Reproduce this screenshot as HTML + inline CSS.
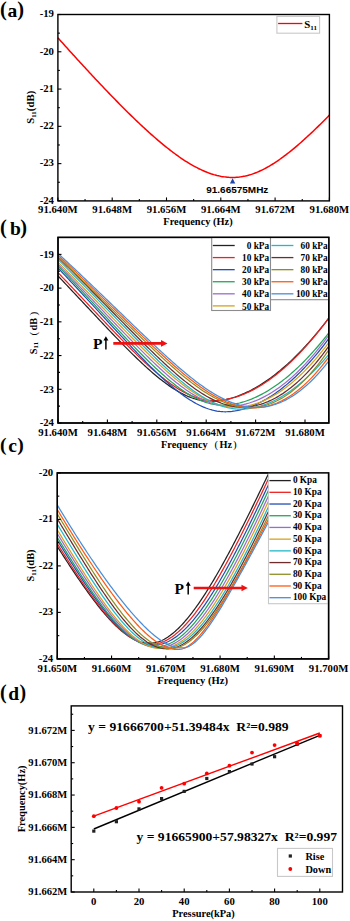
<!DOCTYPE html><html><head><meta charset="utf-8"><style>html,body{margin:0;padding:0;background:#fff;}svg{display:block;}</style></head><body>
<svg width="350" height="921" viewBox="0 0 350 921">
<rect x="0" y="0" width="350" height="921" fill="#fff"/>
<text x="0.1" y="16.2" font-size="20.4" font-family='"Liberation Serif", serif' font-weight="bold">(</text>
<text x="7.5" y="16.9" font-size="19.5" font-family='"Liberation Serif", serif' font-weight="bold">a</text>
<text x="17.35" y="16.2" font-size="20.4" font-family='"Liberation Serif", serif' font-weight="bold">)</text>
<polyline points="57.9,37.77 59.4,39.45 60.9,41.13 62.4,42.8 63.9,44.48 65.4,46.15 66.9,47.81 68.4,49.48 69.9,51.14 71.4,52.8 72.9,54.45 74.4,56.11 75.9,57.76 77.4,59.4 78.9,61.05 80.4,62.69 81.9,64.33 83.4,65.96 84.9,67.59 86.4,69.22 87.9,70.84 89.4,72.46 90.9,74.08 92.4,75.69 93.9,77.3 95.4,78.9 96.9,80.5 98.4,82.1 99.9,83.69 101.4,85.27 102.9,86.85 104.4,88.43 105.9,90 107.4,91.57 108.9,93.13 110.4,94.69 111.9,96.24 113.4,97.79 114.9,99.33 116.4,100.86 117.9,102.39 119.4,103.91 120.9,105.43 122.4,106.94 123.9,108.44 125.4,109.94 126.9,111.43 128.4,112.91 129.9,114.38 131.4,115.85 132.9,117.31 134.4,118.76 135.9,120.2 137.4,121.63 138.9,123.05 140.4,124.47 141.9,125.88 143.4,127.27 144.9,128.66 146.4,130.03 147.9,131.4 149.4,132.75 150.9,134.1 152.4,135.43 153.9,136.75 155.4,138.06 156.9,139.35 158.4,140.63 159.9,141.9 161.4,143.16 162.9,144.4 164.4,145.62 165.9,146.84 167.4,148.03 168.9,149.21 170.4,150.38 171.9,151.52 173.4,152.65 174.9,153.77 176.4,154.86 177.9,155.94 179.4,156.99 180.9,158.03 182.4,159.04 183.9,160.04 185.4,161.01 186.9,161.96 188.4,162.89 189.9,163.8 191.4,164.68 192.9,165.54 194.4,166.37 195.9,167.17 197.4,167.95 198.9,168.71 200.4,169.43 201.9,170.13 203.4,170.8 204.9,171.44 206.4,172.05 207.9,172.63 209.4,173.18 210.9,173.7 212.4,174.18 213.9,174.64 215.4,175.06 216.9,175.45 218.4,175.8 219.9,176.12 221.4,176.41 222.9,176.66 224.4,176.88 225.9,177.06 227.4,177.21 228.9,177.32 230.4,177.39 231.9,177.43 233.4,177.44 234.9,177.4 236.4,177.32 237.9,177.21 239.4,177.05 240.9,176.85 242.4,176.61 243.9,176.33 245.4,176.02 246.9,175.66 248.4,175.27 249.9,174.84 251.4,174.37 252.9,173.86 254.4,173.32 255.9,172.74 257.4,172.13 258.9,171.48 260.4,170.8 261.9,170.09 263.4,169.34 264.9,168.57 266.4,167.76 267.9,166.92 269.4,166.06 270.9,165.16 272.4,164.24 273.9,163.29 275.4,162.32 276.9,161.32 278.4,160.3 279.9,159.25 281.4,158.18 282.9,157.09 284.4,155.97 285.9,154.84 287.4,153.68 288.9,152.5 290.4,151.31 291.9,150.09 293.4,148.86 294.9,147.61 296.4,146.34 297.9,145.06 299.4,143.76 300.9,142.45 302.4,141.12 303.9,139.78 305.4,138.42 306.9,137.05 308.4,135.67 309.9,134.27 311.4,132.86 312.9,131.44 314.4,130.01 315.9,128.57 317.4,127.11 318.9,125.65 320.4,124.17 321.9,122.69 323.4,121.2 324.9,119.69 326.4,118.18 327.9,116.66 329.4,115.13" fill="none" stroke="#ff0000" stroke-width="1.5" stroke-linejoin="round" />
<rect x="57.9" y="14.5" width="271.5" height="186.4" stroke="#000" stroke-width="1.4" fill="none" />
<line x1="57.9" y1="14.5" x2="61.4" y2="14.5" stroke="#000" stroke-width="1.1" />
<line x1="57.9" y1="51.78" x2="61.4" y2="51.78" stroke="#000" stroke-width="1.1" />
<line x1="57.9" y1="89.06" x2="61.4" y2="89.06" stroke="#000" stroke-width="1.1" />
<line x1="57.9" y1="126.34" x2="61.4" y2="126.34" stroke="#000" stroke-width="1.1" />
<line x1="57.9" y1="163.62" x2="61.4" y2="163.62" stroke="#000" stroke-width="1.1" />
<line x1="57.9" y1="200.9" x2="61.4" y2="200.9" stroke="#000" stroke-width="1.1" />
<line x1="57.9" y1="33.14" x2="59.9" y2="33.14" stroke="#000" stroke-width="1.1" />
<line x1="57.9" y1="70.42" x2="59.9" y2="70.42" stroke="#000" stroke-width="1.1" />
<line x1="57.9" y1="107.7" x2="59.9" y2="107.7" stroke="#000" stroke-width="1.1" />
<line x1="57.9" y1="144.98" x2="59.9" y2="144.98" stroke="#000" stroke-width="1.1" />
<line x1="57.9" y1="182.26" x2="59.9" y2="182.26" stroke="#000" stroke-width="1.1" />
<line x1="57.9" y1="200.9" x2="57.9" y2="197.4" stroke="#000" stroke-width="1.1" />
<line x1="112.2" y1="200.9" x2="112.2" y2="197.4" stroke="#000" stroke-width="1.1" />
<line x1="166.5" y1="200.9" x2="166.5" y2="197.4" stroke="#000" stroke-width="1.1" />
<line x1="220.8" y1="200.9" x2="220.8" y2="197.4" stroke="#000" stroke-width="1.1" />
<line x1="275.1" y1="200.9" x2="275.1" y2="197.4" stroke="#000" stroke-width="1.1" />
<line x1="329.4" y1="200.9" x2="329.4" y2="197.4" stroke="#000" stroke-width="1.1" />
<line x1="85.05" y1="200.9" x2="85.05" y2="198.9" stroke="#000" stroke-width="1.1" />
<line x1="139.35" y1="200.9" x2="139.35" y2="198.9" stroke="#000" stroke-width="1.1" />
<line x1="193.65" y1="200.9" x2="193.65" y2="198.9" stroke="#000" stroke-width="1.1" />
<line x1="247.95" y1="200.9" x2="247.95" y2="198.9" stroke="#000" stroke-width="1.1" />
<line x1="302.25" y1="200.9" x2="302.25" y2="198.9" stroke="#000" stroke-width="1.1" />
<text transform="translate(54,17.3) scale(1.12,1)" font-size="9.6" text-anchor="end" font-family='"Liberation Serif", serif' font-weight="bold" fill="#000" >-19</text>
<text transform="translate(54,54.58) scale(1.12,1)" font-size="9.6" text-anchor="end" font-family='"Liberation Serif", serif' font-weight="bold" fill="#000" >-20</text>
<text transform="translate(54,91.86) scale(1.12,1)" font-size="9.6" text-anchor="end" font-family='"Liberation Serif", serif' font-weight="bold" fill="#000" >-21</text>
<text transform="translate(54,129.14) scale(1.12,1)" font-size="9.6" text-anchor="end" font-family='"Liberation Serif", serif' font-weight="bold" fill="#000" >-22</text>
<text transform="translate(54,166.42) scale(1.12,1)" font-size="9.6" text-anchor="end" font-family='"Liberation Serif", serif' font-weight="bold" fill="#000" >-23</text>
<text transform="translate(54,203.7) scale(1.12,1)" font-size="9.6" text-anchor="end" font-family='"Liberation Serif", serif' font-weight="bold" fill="#000" >-24</text>
<text transform="translate(57.9,213.2) scale(1.12,1)" font-size="9.6" text-anchor="middle" font-family='"Liberation Serif", serif' font-weight="bold" fill="#000" >91.640M</text>
<text transform="translate(112.2,213.2) scale(1.12,1)" font-size="9.6" text-anchor="middle" font-family='"Liberation Serif", serif' font-weight="bold" fill="#000" >91.648M</text>
<text transform="translate(166.5,213.2) scale(1.12,1)" font-size="9.6" text-anchor="middle" font-family='"Liberation Serif", serif' font-weight="bold" fill="#000" >91.656M</text>
<text transform="translate(220.8,213.2) scale(1.12,1)" font-size="9.6" text-anchor="middle" font-family='"Liberation Serif", serif' font-weight="bold" fill="#000" >91.664M</text>
<text transform="translate(275.1,213.2) scale(1.12,1)" font-size="9.6" text-anchor="middle" font-family='"Liberation Serif", serif' font-weight="bold" fill="#000" >91.672M</text>
<text transform="translate(329.4,213.2) scale(1.12,1)" font-size="9.6" text-anchor="middle" font-family='"Liberation Serif", serif' font-weight="bold" fill="#000" >91.680M</text>
<text x="198" y="225" font-size="10.4" text-anchor="middle" font-family='"Liberation Serif", serif' font-weight="bold" fill="#000" >Frequency (Hz)</text>
<text transform="translate(34.2,107.3) rotate(-90) scale(1.0,1)" font-size="10.8" text-anchor="middle" font-family='"Liberation Serif", serif' font-weight="bold">S<tspan font-size="7" dy="1.8">11</tspan><tspan dy="-1.8">(dB)</tspan></text>
<rect x="276.9" y="16.4" width="42.7" height="16.8" stroke="#c8c8c8" stroke-width="1.1" fill="#fff" />
<line x1="278.1" y1="23.5" x2="302.4" y2="23.5" stroke="#ff0000" stroke-width="1.3" />
<text x="304.3" y="28" font-size="10.8" font-family='"Liberation Serif", serif' font-weight="bold">S<tspan font-size="7" dy="2">11</tspan></text>
<polygon points="232.6,178.3 235.3,183.4 229.9,183.4" fill="#1d48b0"/>
<text transform="translate(237.3,193.4) scale(1.04,1)" font-size="9.6" text-anchor="middle" font-family='"Liberation Sans", sans-serif' font-weight="bold" fill="#000" >91.66575MHz</text>
<text x="0.1" y="234.3" font-size="20.4" font-family='"Liberation Serif", serif' font-weight="bold">(</text>
<text x="10.05" y="235.4" font-size="19.5" font-family='"Liberation Serif", serif' font-weight="bold">b</text>
<text x="20.35" y="234.3" font-size="20.4" font-family='"Liberation Serif", serif' font-weight="bold">)</text>
<clipPath id="cb"><rect x="58.0" y="237.4" width="270.8" height="185.6"/></clipPath>
<g clip-path="url(#cb)">
<polyline points="58,275.93 59.5,277.51 61,279.09 62.5,280.68 64,282.27 65.5,283.85 67,285.44 68.5,287.03 70,288.63 71.5,290.22 73,291.81 74.5,293.41 76,295.01 77.5,296.6 79,298.2 80.5,299.8 82,301.4 83.5,303 85,304.6 86.5,306.2 88,307.8 89.5,309.4 91,311 92.5,312.59 94,314.19 95.5,315.79 97,317.38 98.5,318.97 100,320.57 101.5,322.16 103,323.74 104.5,325.33 106,326.91 107.5,328.49 109,330.07 110.5,331.64 112,333.21 113.5,334.77 115,336.34 116.5,337.89 118,339.44 119.5,340.99 121,342.53 122.5,344.06 124,345.59 125.5,347.11 127,348.62 128.5,350.12 130,351.62 131.5,353.11 133,354.58 134.5,356.05 136,357.51 137.5,358.96 139,360.39 140.5,361.81 142,363.22 143.5,364.62 145,366 146.5,367.37 148,368.72 149.5,370.06 151,371.38 152.5,372.68 154,373.96 155.5,375.23 157,376.47 158.5,377.7 160,378.9 161.5,380.08 163,381.24 164.5,382.37 166,383.48 167.5,384.57 169,385.62 170.5,386.66 172,387.66 173.5,388.63 175,389.58 176.5,390.49 178,391.37 179.5,392.22 181,393.04 182.5,393.82 184,394.57 185.5,395.28 187,395.95 188.5,396.59 190,397.19 191.5,397.76 193,398.28 194.5,398.76 196,399.21 197.5,399.61 199,399.97 200.5,400.29 202,400.57 203.5,400.8 205,401 206.5,401.15 208,401.25 209.5,401.32 211,401.34 212.5,401.31 214,401.25 215.5,401.15 217,401.02 218.5,400.85 220,400.65 221.5,400.42 223,400.16 224.5,399.87 226,399.55 227.5,399.2 229,398.82 230.5,398.42 232,397.98 233.5,397.52 235,397.04 236.5,396.52 238,395.98 239.5,395.41 241,394.82 242.5,394.2 244,393.55 245.5,392.88 247,392.18 248.5,391.46 250,390.71 251.5,389.94 253,389.14 254.5,388.32 256,387.47 257.5,386.59 259,385.7 260.5,384.78 262,383.83 263.5,382.86 265,381.86 266.5,380.84 268,379.8 269.5,378.73 271,377.64 272.5,376.53 274,375.39 275.5,374.23 277,373.05 278.5,371.84 280,370.61 281.5,369.35 283,368.07 284.5,366.77 286,365.45 287.5,364.1 289,362.73 290.5,361.34 292,359.92 293.5,358.48 295,357.02 296.5,355.54 298,354.03 299.5,352.5 301,350.95 302.5,349.38 304,347.78 305.5,346.16 307,344.52 308.5,342.86 310,341.17 311.5,339.47 313,337.74 314.5,335.98 316,334.21 317.5,332.42 319,330.6 320.5,328.76 322,326.9 323.5,325.02 325,323.11 326.5,321.19 328,319.24 329.5,317.27" fill="none" stroke="#222222" stroke-width="1.25" stroke-linejoin="round" />
<polyline points="58,272.62 59.5,274.19 61,275.76 62.5,277.33 64,278.9 65.5,280.48 67,282.05 68.5,283.63 70,285.21 71.5,286.79 73,288.37 74.5,289.95 76,291.54 77.5,293.12 79,294.71 80.5,296.3 82,297.88 83.5,299.47 85,301.06 86.5,302.65 88,304.24 89.5,305.83 91,307.41 92.5,309 94,310.59 95.5,312.18 97,313.76 98.5,315.35 100,316.93 101.5,318.52 103,320.1 104.5,321.67 106,323.25 107.5,324.83 109,326.4 110.5,327.97 112,329.53 113.5,331.09 115,332.65 116.5,334.21 118,335.76 119.5,337.3 121,338.84 122.5,340.38 124,341.91 125.5,343.43 127,344.95 128.5,346.46 130,347.96 131.5,349.45 133,350.94 134.5,352.42 136,353.88 137.5,355.34 139,356.79 140.5,358.23 142,359.65 143.5,361.07 145,362.47 146.5,363.85 148,365.23 149.5,366.59 151,367.93 152.5,369.26 154,370.57 155.5,371.87 157,373.14 158.5,374.4 160,375.64 161.5,376.86 163,378.06 164.5,379.23 166,380.39 167.5,381.52 169,382.62 170.5,383.7 172,384.76 173.5,385.78 175,386.78 176.5,387.76 178,388.7 179.5,389.61 181,390.49 182.5,391.34 184,392.16 185.5,392.94 187,393.69 188.5,394.41 190,395.08 191.5,395.73 193,396.33 194.5,396.9 196,397.43 197.5,397.92 199,398.37 200.5,398.78 202,399.15 203.5,399.47 205,399.76 206.5,400 208,400.21 209.5,400.37 211,400.48 212.5,400.56 214,400.59 215.5,400.58 217,400.53 218.5,400.44 220,400.31 221.5,400.15 223,399.96 224.5,399.73 226,399.48 227.5,399.19 229,398.87 230.5,398.52 232,398.14 233.5,397.74 235,397.3 236.5,396.84 238,396.34 239.5,395.82 241,395.27 242.5,394.69 244,394.09 245.5,393.45 247,392.79 248.5,392.1 250,391.39 251.5,390.65 253,389.88 254.5,389.08 256,388.26 257.5,387.41 259,386.54 260.5,385.64 262,384.71 263.5,383.75 265,382.78 266.5,381.77 268,380.74 269.5,379.68 271,378.6 272.5,377.49 274,376.36 275.5,375.2 277,374.01 278.5,372.8 280,371.57 281.5,370.31 283,369.02 284.5,367.71 286,366.37 287.5,365.01 289,363.63 290.5,362.22 292,360.78 293.5,359.32 295,357.84 296.5,356.33 298,354.79 299.5,353.24 301,351.65 302.5,350.04 304,348.41 305.5,346.76 307,345.07 308.5,343.37 310,341.64 311.5,339.89 313,338.11 314.5,336.31 316,334.48 317.5,332.63 319,330.75 320.5,328.85 322,326.93 323.5,324.98 325,323.01 326.5,321.02 328,319 329.5,316.96" fill="none" stroke="#ee2020" stroke-width="1.25" stroke-linejoin="round" />
<polyline points="58,267.97 59.5,269.55 61,271.14 62.5,272.73 64,274.32 65.5,275.91 67,277.51 68.5,279.11 70,280.71 71.5,282.31 73,283.92 74.5,285.52 76,287.13 77.5,288.74 79,290.36 80.5,291.97 82,293.59 83.5,295.21 85,296.82 86.5,298.45 88,300.07 89.5,301.69 91,303.31 92.5,304.94 94,306.57 95.5,308.19 97,309.82 98.5,311.45 100,313.08 101.5,314.71 103,316.33 104.5,317.96 106,319.59 107.5,321.22 109,322.85 110.5,324.47 112,326.1 113.5,327.72 115,329.34 116.5,330.96 118,332.58 119.5,334.2 121,335.81 122.5,337.43 124,339.03 125.5,340.64 127,342.24 128.5,343.84 130,345.43 131.5,347.02 133,348.6 134.5,350.18 136,351.76 137.5,353.32 139,354.88 140.5,356.44 142,357.98 143.5,359.52 145,361.05 146.5,362.57 148,364.08 149.5,365.58 151,367.07 152.5,368.55 154,370.02 155.5,371.48 157,372.92 158.5,374.35 160,375.77 161.5,377.17 163,378.55 164.5,379.92 166,381.27 167.5,382.61 169,383.92 170.5,385.22 172,386.49 173.5,387.75 175,388.98 176.5,390.19 178,391.38 179.5,392.54 181,393.67 182.5,394.78 184,395.87 185.5,396.92 187,397.95 188.5,398.94 190,399.91 191.5,400.84 193,401.74 194.5,402.61 196,403.45 197.5,404.24 199,405 200.5,405.73 202,406.42 203.5,407.06 205,407.67 206.5,408.24 208,408.77 209.5,409.26 211,409.7 212.5,410.11 214,410.47 215.5,410.78 217,411.06 218.5,411.28 220,411.47 221.5,411.61 223,411.7 224.5,411.75 226,411.75 227.5,411.71 229,411.63 230.5,411.51 232,411.36 233.5,411.16 235,410.94 236.5,410.68 238,410.38 239.5,410.06 241,409.7 242.5,409.31 244,408.89 245.5,408.44 247,407.95 248.5,407.44 250,406.9 251.5,406.32 253,405.72 254.5,405.08 256,404.42 257.5,403.73 259,403 260.5,402.25 262,401.47 263.5,400.66 265,399.82 266.5,398.96 268,398.06 269.5,397.14 271,396.18 272.5,395.2 274,394.2 275.5,393.16 277,392.1 278.5,391 280,389.88 281.5,388.74 283,387.56 284.5,386.36 286,385.13 287.5,383.87 289,382.59 290.5,381.27 292,379.93 293.5,378.57 295,377.17 296.5,375.75 298,374.3 299.5,372.83 301,371.33 302.5,369.8 304,368.24 305.5,366.66 307,365.05 308.5,363.42 310,361.76 311.5,360.07 313,358.35 314.5,356.61 316,354.84 317.5,353.05 319,351.23 320.5,349.38 322,347.5 323.5,345.6 325,343.68 326.5,341.72 328,339.74 329.5,337.74" fill="none" stroke="#2050b4" stroke-width="1.25" stroke-linejoin="round" />
<polyline points="58,265.86 59.5,267.44 61,269.01 62.5,270.59 64,272.17 65.5,273.75 67,275.34 68.5,276.93 70,278.51 71.5,280.11 73,281.7 74.5,283.29 76,284.89 77.5,286.49 79,288.09 80.5,289.69 82,291.29 83.5,292.89 85,294.5 86.5,296.11 88,297.71 89.5,299.32 91,300.93 92.5,302.54 94,304.15 95.5,305.76 97,307.37 98.5,308.98 100,310.59 101.5,312.2 103,313.81 104.5,315.42 106,317.03 107.5,318.64 109,320.25 110.5,321.85 112,323.46 113.5,325.06 115,326.66 116.5,328.26 118,329.85 119.5,331.45 121,333.03 122.5,334.62 124,336.2 125.5,337.78 127,339.36 128.5,340.93 130,342.49 131.5,344.05 133,345.61 134.5,347.15 136,348.69 137.5,350.23 139,351.76 140.5,353.27 142,354.79 143.5,356.29 145,357.78 146.5,359.26 148,360.74 149.5,362.2 151,363.65 152.5,365.09 154,366.51 155.5,367.92 157,369.32 158.5,370.71 160,372.07 161.5,373.43 163,374.76 164.5,376.08 166,377.38 167.5,378.66 169,379.92 170.5,381.16 172,382.38 173.5,383.58 175,384.75 176.5,385.9 178,387.03 179.5,388.13 181,389.2 182.5,390.25 184,391.26 185.5,392.25 187,393.21 188.5,394.14 190,395.04 191.5,395.9 193,396.73 194.5,397.52 196,398.28 197.5,399.01 199,399.7 200.5,400.35 202,400.96 203.5,401.53 205,402.06 206.5,402.56 208,403.01 209.5,403.42 211,403.79 212.5,404.12 214,404.4 215.5,404.64 217,404.84 218.5,404.99 220,405.1 221.5,405.17 223,405.19 224.5,405.17 226,405.11 227.5,405.01 229,404.87 230.5,404.7 232,404.5 233.5,404.26 235,403.99 236.5,403.69 238,403.36 239.5,403 241,402.6 242.5,402.18 244,401.73 245.5,401.25 247,400.74 248.5,400.21 250,399.64 251.5,399.05 253,398.42 254.5,397.77 256,397.09 257.5,396.39 259,395.66 260.5,394.9 262,394.11 263.5,393.3 265,392.45 266.5,391.59 268,390.69 269.5,389.77 271,388.82 272.5,387.85 274,386.85 275.5,385.82 277,384.77 278.5,383.69 280,382.59 281.5,381.46 283,380.3 284.5,379.12 286,377.92 287.5,376.68 289,375.43 290.5,374.14 292,372.83 293.5,371.5 295,370.14 296.5,368.76 298,367.35 299.5,365.91 301,364.45 302.5,362.97 304,361.46 305.5,359.93 307,358.37 308.5,356.78 310,355.18 311.5,353.54 313,351.89 314.5,350.2 316,348.5 317.5,346.77 319,345.01 320.5,343.23 322,341.43 323.5,339.6 325,337.74 326.5,335.87 328,333.97 329.5,332.04" fill="none" stroke="#24a458" stroke-width="1.25" stroke-linejoin="round" />
<polyline points="58,264.23 59.5,265.76 61,267.29 62.5,268.83 64,270.37 65.5,271.91 67,273.45 68.5,274.99 70,276.54 71.5,278.08 73,279.63 74.5,281.18 76,282.74 77.5,284.29 79,285.85 80.5,287.41 82,288.97 83.5,290.53 85,292.09 86.5,293.65 88,295.22 89.5,296.79 91,298.35 92.5,299.92 94,301.49 95.5,303.06 97,304.63 98.5,306.2 100,307.77 101.5,309.34 103,310.91 104.5,312.48 106,314.06 107.5,315.63 109,317.2 110.5,318.76 112,320.33 113.5,321.9 115,323.47 116.5,325.03 118,326.59 119.5,328.15 121,329.71 122.5,331.27 124,332.82 125.5,334.37 127,335.92 128.5,337.46 130,339 131.5,340.54 133,342.07 134.5,343.6 136,345.12 137.5,346.64 139,348.15 140.5,349.65 142,351.15 143.5,352.64 145,354.12 146.5,355.6 148,357.07 149.5,358.52 151,359.97 152.5,361.41 154,362.84 155.5,364.26 157,365.67 158.5,367.07 160,368.45 161.5,369.82 163,371.18 164.5,372.52 166,373.85 167.5,375.16 169,376.45 170.5,377.73 172,378.99 173.5,380.23 175,381.46 176.5,382.66 178,383.84 179.5,385 181,386.14 182.5,387.26 184,388.35 185.5,389.42 187,390.46 188.5,391.47 190,392.46 191.5,393.42 193,394.36 194.5,395.26 196,396.13 197.5,396.97 199,397.78 200.5,398.55 202,399.29 203.5,400 205,400.67 206.5,401.31 208,401.91 209.5,402.47 211,403 212.5,403.48 214,403.93 215.5,404.34 217,404.71 218.5,405.04 220,405.32 221.5,405.57 223,405.78 224.5,405.94 226,406.06 227.5,406.14 229,406.18 230.5,406.17 232,406.12 233.5,406.04 235,405.91 236.5,405.75 238,405.56 239.5,405.32 241,405.06 242.5,404.76 244,404.43 245.5,404.06 247,403.66 248.5,403.23 250,402.77 251.5,402.27 253,401.74 254.5,401.18 256,400.59 257.5,399.96 259,399.31 260.5,398.62 262,397.9 263.5,397.15 265,396.37 266.5,395.56 268,394.72 269.5,393.85 271,392.95 272.5,392.01 274,391.05 275.5,390.05 277,389.03 278.5,387.97 280,386.89 281.5,385.77 283,384.62 284.5,383.45 286,382.24 287.5,381 289,379.73 290.5,378.44 292,377.11 293.5,375.75 295,374.37 296.5,372.95 298,371.5 299.5,370.03 301,368.52 302.5,366.98 304,365.42 305.5,363.82 307,362.19 308.5,360.54 310,358.85 311.5,357.14 313,355.39 314.5,353.62 316,351.82 317.5,349.98 319,348.12 320.5,346.22 322,344.3 323.5,342.35 325,340.37 326.5,338.35 328,336.31 329.5,334.24" fill="none" stroke="#9a6ccc" stroke-width="1.25" stroke-linejoin="round" />
<polyline points="58,262.16 59.5,263.66 61,265.16 62.5,266.66 64,268.17 65.5,269.68 67,271.19 68.5,272.71 70,274.22 71.5,275.74 73,277.26 74.5,278.79 76,280.31 77.5,281.84 79,283.36 80.5,284.89 82,286.42 83.5,287.96 85,289.49 86.5,291.03 88,292.56 89.5,294.1 91,295.64 92.5,297.18 94,298.72 95.5,300.27 97,301.81 98.5,303.35 100,304.9 101.5,306.44 103,307.99 104.5,309.53 106,311.08 107.5,312.63 109,314.17 110.5,315.72 112,317.26 113.5,318.81 115,320.35 116.5,321.89 118,323.44 119.5,324.98 121,326.51 122.5,328.05 124,329.59 125.5,331.12 127,332.65 128.5,334.18 130,335.7 131.5,337.23 133,338.74 134.5,340.26 136,341.77 137.5,343.28 139,344.78 140.5,346.28 142,347.77 143.5,349.25 145,350.73 146.5,352.21 148,353.67 149.5,355.13 151,356.59 152.5,358.03 154,359.47 155.5,360.89 157,362.31 158.5,363.72 160,365.12 161.5,366.5 163,367.88 164.5,369.24 166,370.59 167.5,371.93 169,373.25 170.5,374.56 172,375.86 173.5,377.14 175,378.4 176.5,379.64 178,380.87 179.5,382.08 181,383.27 182.5,384.44 184,385.59 185.5,386.72 187,387.83 188.5,388.91 190,389.97 191.5,391.01 193,392.02 194.5,393 196,393.96 197.5,394.89 199,395.79 200.5,396.67 202,397.51 203.5,398.32 205,399.1 206.5,399.85 208,400.57 209.5,401.25 211,401.9 212.5,402.51 214,403.09 215.5,403.63 217,404.13 218.5,404.6 220,405.03 221.5,405.42 223,405.77 224.5,406.08 226,406.35 227.5,406.59 229,406.78 230.5,406.93 232,407.04 233.5,407.11 235,407.14 236.5,407.13 238,407.08 239.5,406.99 241,406.86 242.5,406.69 244,406.49 245.5,406.26 247,405.99 248.5,405.68 250,405.34 251.5,404.97 253,404.56 254.5,404.12 256,403.65 257.5,403.15 259,402.61 260.5,402.04 262,401.43 263.5,400.8 265,400.13 266.5,399.43 268,398.7 269.5,397.93 271,397.13 272.5,396.31 274,395.45 275.5,394.55 277,393.63 278.5,392.67 280,391.69 281.5,390.67 283,389.62 284.5,388.54 286,387.42 287.5,386.28 289,385.1 290.5,383.9 292,382.66 293.5,381.39 295,380.09 296.5,378.75 298,377.39 299.5,375.99 301,374.57 302.5,373.11 304,371.62 305.5,370.1 307,368.55 308.5,366.97 310,365.36 311.5,363.71 313,362.04 314.5,360.33 316,358.59 317.5,356.82 319,355.02 320.5,353.19 322,351.33 323.5,349.44 325,347.51 326.5,345.55 328,343.57 329.5,341.55" fill="none" stroke="#d6a21e" stroke-width="1.25" stroke-linejoin="round" />
<polyline points="58,259.45 59.5,260.94 61,262.43 62.5,263.92 64,265.42 65.5,266.92 67,268.42 68.5,269.92 70,271.42 71.5,272.93 73,274.44 74.5,275.95 76,277.46 77.5,278.98 79,280.49 80.5,282.01 82,283.53 83.5,285.06 85,286.58 86.5,288.1 88,289.63 89.5,291.16 91,292.69 92.5,294.22 94,295.76 95.5,297.29 97,298.82 98.5,300.36 100,301.9 101.5,303.44 103,304.97 104.5,306.51 106,308.05 107.5,309.59 109,311.13 110.5,312.68 112,314.22 113.5,315.76 115,317.3 116.5,318.84 118,320.38 119.5,321.91 121,323.45 122.5,324.99 124,326.52 125.5,328.06 127,329.59 128.5,331.12 130,332.65 131.5,334.18 133,335.7 134.5,337.22 136,338.74 137.5,340.25 139,341.76 140.5,343.27 142,344.77 143.5,346.27 145,347.76 146.5,349.25 148,350.73 149.5,352.21 151,353.68 152.5,355.15 154,356.6 155.5,358.05 157,359.5 158.5,360.93 160,362.36 161.5,363.77 163,365.18 164.5,366.57 166,367.96 167.5,369.33 169,370.7 170.5,372.05 172,373.39 173.5,374.71 175,376.02 176.5,377.32 178,378.6 179.5,379.86 181,381.11 182.5,382.34 184,383.55 185.5,384.75 187,385.92 188.5,387.08 190,388.21 191.5,389.33 193,390.42 194.5,391.48 196,392.53 197.5,393.55 199,394.54 200.5,395.51 202,396.45 203.5,397.36 205,398.24 206.5,399.1 208,399.92 209.5,400.72 211,401.48 212.5,402.21 214,402.91 215.5,403.57 217,404.2 218.5,404.79 220,405.35 221.5,405.87 223,406.36 224.5,406.81 226,407.22 227.5,407.59 229,407.92 230.5,408.22 232,408.47 233.5,408.69 235,408.86 236.5,409 238,409.09 239.5,409.14 241,409.16 242.5,409.13 244,409.06 245.5,408.96 247,408.82 248.5,408.65 250,408.44 251.5,408.19 253,407.92 254.5,407.61 256,407.27 257.5,406.9 259,406.49 260.5,406.06 262,405.59 263.5,405.09 265,404.56 266.5,404 268,403.41 269.5,402.79 271,402.13 272.5,401.45 274,400.74 275.5,399.99 277,399.22 278.5,398.41 280,397.58 281.5,396.71 283,395.82 284.5,394.9 286,393.94 287.5,392.96 289,391.95 290.5,390.9 292,389.83 293.5,388.73 295,387.6 296.5,386.44 298,385.25 299.5,384.03 301,382.78 302.5,381.5 304,380.19 305.5,378.86 307,377.49 308.5,376.1 310,374.67 311.5,373.22 313,371.74 314.5,370.23 316,368.69 317.5,367.12 319,365.52 320.5,363.89 322,362.24 323.5,360.55 325,358.84 326.5,357.09 328,355.32 329.5,353.52" fill="none" stroke="#22b8c8" stroke-width="1.25" stroke-linejoin="round" />
<polyline points="58,257.33 59.5,258.8 61,260.27 62.5,261.75 64,263.23 65.5,264.71 67,266.19 68.5,267.68 70,269.17 71.5,270.66 73,272.15 74.5,273.64 76,275.14 77.5,276.63 79,278.13 80.5,279.64 82,281.14 83.5,282.65 85,284.15 86.5,285.66 88,287.17 89.5,288.68 91,290.2 92.5,291.71 94,293.23 95.5,294.75 97,296.26 98.5,297.78 100,299.3 101.5,300.83 103,302.35 104.5,303.87 106,305.39 107.5,306.92 109,308.44 110.5,309.97 112,311.49 113.5,313.02 115,314.54 116.5,316.07 118,317.59 119.5,319.11 121,320.64 122.5,322.16 124,323.68 125.5,325.2 127,326.72 128.5,328.23 130,329.75 131.5,331.26 133,332.77 134.5,334.28 136,335.78 137.5,337.28 139,338.78 140.5,340.27 142,341.76 143.5,343.25 145,344.73 146.5,346.21 148,347.68 149.5,349.15 151,350.61 152.5,352.07 154,353.51 155.5,354.96 157,356.39 158.5,357.82 160,359.24 161.5,360.65 163,362.05 164.5,363.44 166,364.82 167.5,366.19 169,367.55 170.5,368.9 172,370.23 173.5,371.56 175,372.87 176.5,374.17 178,375.45 179.5,376.71 181,377.97 182.5,379.2 184,380.42 185.5,381.62 187,382.8 188.5,383.97 190,385.11 191.5,386.23 193,387.33 194.5,388.41 196,389.47 197.5,390.51 199,391.52 200.5,392.5 202,393.46 203.5,394.39 205,395.3 206.5,396.17 208,397.02 209.5,397.84 211,398.63 212.5,399.39 214,400.11 215.5,400.81 217,401.47 218.5,402.1 220,402.69 221.5,403.25 223,403.77 224.5,404.25 226,404.7 227.5,405.11 229,405.49 230.5,405.82 232,406.12 233.5,406.38 235,406.6 236.5,406.78 238,406.92 239.5,407.02 241,407.08 242.5,407.1 244,407.09 245.5,407.02 247,406.92 248.5,406.78 250,406.61 251.5,406.39 253,406.14 254.5,405.85 256,405.52 257.5,405.15 259,404.75 260.5,404.32 262,403.84 263.5,403.33 265,402.78 266.5,402.2 268,401.58 269.5,400.92 271,400.23 272.5,399.5 274,398.74 275.5,397.94 277,397.1 278.5,396.23 280,395.32 281.5,394.38 283,393.4 284.5,392.38 286,391.33 287.5,390.24 289,389.12 290.5,387.96 292,386.77 293.5,385.54 295,384.27 296.5,382.97 298,381.63 299.5,380.26 301,378.85 302.5,377.4 304,375.92 305.5,374.41 307,372.85 308.5,371.26 310,369.64 311.5,367.98 313,366.28 314.5,364.55 316,362.78 317.5,360.98 319,359.13 320.5,357.26 322,355.34 323.5,353.39 325,351.41 326.5,349.38 328,347.33 329.5,345.23" fill="none" stroke="#6e2c2c" stroke-width="1.25" stroke-linejoin="round" />
<polyline points="58,256.95 59.5,258.37 61,259.79 62.5,261.21 64,262.64 65.5,264.07 67,265.5 68.5,266.93 70,268.36 71.5,269.8 73,271.24 74.5,272.68 76,274.12 77.5,275.56 79,277.01 80.5,278.46 82,279.91 83.5,281.36 85,282.81 86.5,284.27 88,285.73 89.5,287.18 91,288.64 92.5,290.1 94,291.57 95.5,293.03 97,294.5 98.5,295.96 100,297.43 101.5,298.9 103,300.37 104.5,301.84 106,303.31 107.5,304.78 109,306.25 110.5,307.72 112,309.2 113.5,310.67 115,312.14 116.5,313.62 118,315.09 119.5,316.56 121,318.04 122.5,319.51 124,320.98 125.5,322.45 127,323.92 128.5,325.39 130,326.85 131.5,328.32 133,329.79 134.5,331.25 136,332.71 137.5,334.17 139,335.62 140.5,337.07 142,338.52 143.5,339.97 145,341.41 146.5,342.85 148,344.29 149.5,345.72 151,347.15 152.5,348.57 154,349.99 155.5,351.4 157,352.81 158.5,354.21 160,355.6 161.5,356.99 163,358.37 164.5,359.74 166,361.1 167.5,362.46 169,363.8 170.5,365.14 172,366.47 173.5,367.79 175,369.09 176.5,370.39 178,371.67 179.5,372.95 181,374.21 182.5,375.45 184,376.68 185.5,377.9 187,379.1 188.5,380.29 190,381.46 191.5,382.62 193,383.75 194.5,384.87 196,385.97 197.5,387.05 199,388.11 200.5,389.15 202,390.17 203.5,391.17 205,392.14 206.5,393.09 208,394.02 209.5,394.92 211,395.8 212.5,396.65 214,397.47 215.5,398.26 217,399.03 218.5,399.77 220,400.48 221.5,401.15 223,401.8 224.5,402.42 226,403 227.5,403.55 229,404.07 230.5,404.55 232,405 233.5,405.42 235,405.8 236.5,406.14 238,406.45 239.5,406.72 241,406.96 242.5,407.16 244,407.32 245.5,407.44 247,407.53 248.5,407.58 250,407.59 251.5,407.57 253,407.5 254.5,407.39 256,407.24 257.5,407.05 259,406.81 260.5,406.54 262,406.23 263.5,405.87 265,405.47 266.5,405.03 268,404.55 269.5,404.03 271,403.47 272.5,402.87 274,402.22 275.5,401.53 277,400.81 278.5,400.04 280,399.23 281.5,398.37 283,397.48 284.5,396.54 286,395.57 287.5,394.55 289,393.49 290.5,392.38 292,391.24 293.5,390.05 295,388.82 296.5,387.55 298,386.24 299.5,384.89 301,383.49 302.5,382.05 304,380.57 305.5,379.04 307,377.48 308.5,375.87 310,374.21 311.5,372.52 313,370.78 314.5,369 316,367.17 317.5,365.31 319,363.4 320.5,361.44 322,359.44 323.5,357.4 325,355.32 326.5,353.19 328,351.02 329.5,348.8" fill="none" stroke="#8e8e26" stroke-width="1.25" stroke-linejoin="round" />
<polyline points="58,255.21 59.5,256.61 61,258.02 62.5,259.42 64,260.83 65.5,262.24 67,263.65 68.5,265.07 70,266.49 71.5,267.9 73,269.33 74.5,270.75 76,272.17 77.5,273.6 79,275.03 80.5,276.46 82,277.89 83.5,279.33 85,280.76 86.5,282.2 88,283.64 89.5,285.08 91,286.52 92.5,287.97 94,289.41 95.5,290.86 97,292.31 98.5,293.76 100,295.21 101.5,296.66 103,298.11 104.5,299.57 106,301.02 107.5,302.48 109,303.93 110.5,305.39 112,306.85 113.5,308.31 115,309.77 116.5,311.22 118,312.68 119.5,314.14 121,315.6 122.5,317.06 124,318.52 125.5,319.97 127,321.43 128.5,322.89 130,324.34 131.5,325.79 133,327.25 134.5,328.7 136,330.15 137.5,331.59 139,333.04 140.5,334.48 142,335.92 143.5,337.36 145,338.8 146.5,340.23 148,341.66 149.5,343.08 151,344.51 152.5,345.92 154,347.34 155.5,348.74 157,350.15 158.5,351.55 160,352.94 161.5,354.32 163,355.7 164.5,357.08 166,358.44 167.5,359.8 169,361.15 170.5,362.5 172,363.83 173.5,365.16 175,366.47 176.5,367.78 178,369.08 179.5,370.36 181,371.63 182.5,372.9 184,374.15 185.5,375.38 187,376.61 188.5,377.82 190,379.01 191.5,380.19 193,381.35 194.5,382.5 196,383.63 197.5,384.75 199,385.84 200.5,386.92 202,387.97 203.5,389.01 205,390.03 206.5,391.02 208,391.99 209.5,392.94 211,393.87 212.5,394.77 214,395.65 215.5,396.5 217,397.33 218.5,398.13 220,398.9 221.5,399.65 223,400.36 224.5,401.05 226,401.7 227.5,402.33 229,402.92 230.5,403.48 232,404.01 233.5,404.51 235,404.98 236.5,405.41 238,405.8 239.5,406.16 241,406.49 242.5,406.78 244,407.04 245.5,407.26 247,407.44 248.5,407.59 250,407.7 251.5,407.78 253,407.81 254.5,407.81 256,407.78 257.5,407.7 259,407.58 260.5,407.42 262,407.22 263.5,406.98 265,406.7 266.5,406.37 268,406.01 269.5,405.61 271,405.17 272.5,404.69 274,404.16 275.5,403.6 277,403 278.5,402.35 280,401.67 281.5,400.94 283,400.17 284.5,399.37 286,398.52 287.5,397.63 289,396.7 290.5,395.73 292,394.72 293.5,393.67 295,392.57 296.5,391.44 298,390.26 299.5,389.05 301,387.79 302.5,386.49 304,385.15 305.5,383.77 307,382.34 308.5,380.88 310,379.37 311.5,377.82 313,376.23 314.5,374.6 316,372.93 317.5,371.21 319,369.45 320.5,367.65 322,365.81 323.5,363.92 325,362 326.5,360.03 328,358.01 329.5,355.96" fill="none" stroke="#ff5a14" stroke-width="1.25" stroke-linejoin="round" />
<polyline points="58,253.42 59.5,254.81 61,256.2 62.5,257.6 64,258.99 65.5,260.39 67,261.79 68.5,263.19 70,264.6 71.5,266.01 73,267.42 74.5,268.83 76,270.24 77.5,271.65 79,273.07 80.5,274.49 82,275.91 83.5,277.33 85,278.76 86.5,280.18 88,281.61 89.5,283.04 91,284.47 92.5,285.9 94,287.34 95.5,288.77 97,290.21 98.5,291.65 100,293.09 101.5,294.53 103,295.97 104.5,297.41 106,298.85 107.5,300.3 109,301.74 110.5,303.19 112,304.64 113.5,306.08 115,307.53 116.5,308.98 118,310.43 119.5,311.88 121,313.32 122.5,314.77 124,316.22 125.5,317.67 127,319.12 128.5,320.56 130,322.01 131.5,323.45 133,324.9 134.5,326.34 136,327.78 137.5,329.22 139,330.66 140.5,332.1 142,333.53 143.5,334.96 145,336.39 146.5,337.82 148,339.24 149.5,340.66 151,342.08 152.5,343.49 154,344.9 155.5,346.31 157,347.71 158.5,349.1 160,350.49 161.5,351.88 163,353.26 164.5,354.63 166,356 167.5,357.36 169,358.71 170.5,360.06 172,361.4 173.5,362.73 175,364.05 176.5,365.36 178,366.66 179.5,367.96 181,369.24 182.5,370.51 184,371.77 185.5,373.02 187,374.25 188.5,375.48 190,376.69 191.5,377.88 193,379.06 194.5,380.23 196,381.38 197.5,382.51 199,383.63 200.5,384.73 202,385.81 203.5,386.87 205,387.91 206.5,388.94 208,389.94 209.5,390.92 211,391.88 212.5,392.82 214,393.73 215.5,394.62 217,395.48 218.5,396.32 220,397.14 221.5,397.92 223,398.68 224.5,399.42 226,400.12 227.5,400.79 229,401.44 230.5,402.05 232,402.64 233.5,403.19 235,403.71 236.5,404.2 238,404.65 239.5,405.08 241,405.46 242.5,405.82 244,406.14 245.5,406.42 247,406.67 248.5,406.89 250,407.06 251.5,407.21 253,407.31 254.5,407.38 256,407.42 257.5,407.42 259,407.37 260.5,407.29 262,407.17 263.5,407.01 265,406.81 266.5,406.57 268,406.29 269.5,405.97 271,405.61 272.5,405.21 274,404.77 275.5,404.29 277,403.77 278.5,403.21 280,402.61 281.5,401.97 283,401.29 284.5,400.58 286,399.82 287.5,399.02 289,398.18 290.5,397.3 292,396.38 293.5,395.42 295,394.42 296.5,393.38 298,392.3 299.5,391.17 301,390.01 302.5,388.81 304,387.56 305.5,386.28 307,384.95 308.5,383.59 310,382.18 311.5,380.73 313,379.24 314.5,377.71 316,376.14 317.5,374.53 319,372.88 320.5,371.18 322,369.44 323.5,367.67 325,365.84 326.5,363.98 328,362.08 329.5,360.13" fill="none" stroke="#4a8ed8" stroke-width="1.25" stroke-linejoin="round" />
</g>
<rect x="58" y="237.4" width="270.8" height="185.6" stroke="#000" stroke-width="1.4" fill="none" />
<line x1="58" y1="254.4" x2="61.5" y2="254.4" stroke="#000" stroke-width="1.1" />
<line x1="58" y1="288.12" x2="61.5" y2="288.12" stroke="#000" stroke-width="1.1" />
<line x1="58" y1="321.84" x2="61.5" y2="321.84" stroke="#000" stroke-width="1.1" />
<line x1="58" y1="355.56" x2="61.5" y2="355.56" stroke="#000" stroke-width="1.1" />
<line x1="58" y1="389.28" x2="61.5" y2="389.28" stroke="#000" stroke-width="1.1" />
<line x1="58" y1="423" x2="61.5" y2="423" stroke="#000" stroke-width="1.1" />
<line x1="58" y1="237.54" x2="60" y2="237.54" stroke="#000" stroke-width="1.1" />
<line x1="58" y1="271.26" x2="60" y2="271.26" stroke="#000" stroke-width="1.1" />
<line x1="58" y1="304.98" x2="60" y2="304.98" stroke="#000" stroke-width="1.1" />
<line x1="58" y1="338.7" x2="60" y2="338.7" stroke="#000" stroke-width="1.1" />
<line x1="58" y1="372.42" x2="60" y2="372.42" stroke="#000" stroke-width="1.1" />
<line x1="58" y1="406.14" x2="60" y2="406.14" stroke="#000" stroke-width="1.1" />
<line x1="58" y1="423" x2="58" y2="419.5" stroke="#000" stroke-width="1.1" />
<line x1="107.4" y1="423" x2="107.4" y2="419.5" stroke="#000" stroke-width="1.1" />
<line x1="156.8" y1="423" x2="156.8" y2="419.5" stroke="#000" stroke-width="1.1" />
<line x1="206.2" y1="423" x2="206.2" y2="419.5" stroke="#000" stroke-width="1.1" />
<line x1="255.6" y1="423" x2="255.6" y2="419.5" stroke="#000" stroke-width="1.1" />
<line x1="305" y1="423" x2="305" y2="419.5" stroke="#000" stroke-width="1.1" />
<line x1="82.7" y1="423" x2="82.7" y2="421" stroke="#000" stroke-width="1.1" />
<line x1="132.1" y1="423" x2="132.1" y2="421" stroke="#000" stroke-width="1.1" />
<line x1="181.5" y1="423" x2="181.5" y2="421" stroke="#000" stroke-width="1.1" />
<line x1="230.9" y1="423" x2="230.9" y2="421" stroke="#000" stroke-width="1.1" />
<line x1="280.3" y1="423" x2="280.3" y2="421" stroke="#000" stroke-width="1.1" />
<text transform="translate(54,257.7) scale(1.12,1)" font-size="9.6" text-anchor="end" font-family='"Liberation Serif", serif' font-weight="bold" fill="#000" >-19</text>
<text transform="translate(54,291.42) scale(1.12,1)" font-size="9.6" text-anchor="end" font-family='"Liberation Serif", serif' font-weight="bold" fill="#000" >-20</text>
<text transform="translate(54,325.14) scale(1.12,1)" font-size="9.6" text-anchor="end" font-family='"Liberation Serif", serif' font-weight="bold" fill="#000" >-21</text>
<text transform="translate(54,358.86) scale(1.12,1)" font-size="9.6" text-anchor="end" font-family='"Liberation Serif", serif' font-weight="bold" fill="#000" >-22</text>
<text transform="translate(54,392.58) scale(1.12,1)" font-size="9.6" text-anchor="end" font-family='"Liberation Serif", serif' font-weight="bold" fill="#000" >-23</text>
<text transform="translate(54,426.3) scale(1.12,1)" font-size="9.6" text-anchor="end" font-family='"Liberation Serif", serif' font-weight="bold" fill="#000" >-24</text>
<text transform="translate(58,436) scale(1.12,1)" font-size="9.6" text-anchor="middle" font-family='"Liberation Serif", serif' font-weight="bold" fill="#000" >91.640M</text>
<text transform="translate(107.4,436) scale(1.12,1)" font-size="9.6" text-anchor="middle" font-family='"Liberation Serif", serif' font-weight="bold" fill="#000" >91.648M</text>
<text transform="translate(156.8,436) scale(1.12,1)" font-size="9.6" text-anchor="middle" font-family='"Liberation Serif", serif' font-weight="bold" fill="#000" >91.656M</text>
<text transform="translate(206.2,436) scale(1.12,1)" font-size="9.6" text-anchor="middle" font-family='"Liberation Serif", serif' font-weight="bold" fill="#000" >91.664M</text>
<text transform="translate(255.6,436) scale(1.12,1)" font-size="9.6" text-anchor="middle" font-family='"Liberation Serif", serif' font-weight="bold" fill="#000" >91.672M</text>
<text transform="translate(305,436) scale(1.12,1)" font-size="9.6" text-anchor="middle" font-family='"Liberation Serif", serif' font-weight="bold" fill="#000" >91.680M</text>
<text x="161" y="447.8" font-size="10.3" font-family='"Liberation Serif", serif' font-weight="bold">Frequency</text>
<text x="214.6" y="447.6" font-size="11" font-family='"Liberation Serif", serif'>(</text>
<text x="219.4" y="447.8" font-size="10.3" font-family='"Liberation Serif", serif' font-weight="bold">Hz</text>
<text x="233.0" y="447.6" font-size="11" font-family='"Liberation Serif", serif'>)</text>
<text transform="translate(36.6,354.2) rotate(-90)" font-size="10.3" font-family='"Liberation Serif", serif' font-weight="bold">S<tspan font-size="7" dy="1.8">11</tspan></text>
<text transform="translate(36.6,335.6) rotate(-90)" font-size="11" font-family='"Liberation Serif", serif'>(</text>
<text transform="translate(36.6,330.6) rotate(-90)" font-size="10.3" font-family='"Liberation Serif", serif' font-weight="bold">dB</text>
<text transform="translate(36.6,315.4) rotate(-90)" font-size="11" font-family='"Liberation Serif", serif'>)</text>
<rect x="211.7" y="237.4" width="58.8" height="73.1" stroke="#8c8c8c" stroke-width="1.1" fill="#fff" />
<rect x="270.5" y="237.4" width="58.3" height="62.3" stroke="#8c8c8c" stroke-width="1.1" fill="#fff" />
<rect x="58" y="237.4" width="270.8" height="185.6" stroke="#000" stroke-width="1.4" fill="none" />
<line x1="212.8" y1="245.5" x2="234.7" y2="245.5" stroke="#222222" stroke-width="1.3" />
<text x="269.2" y="249.1" font-size="9.3" text-anchor="end" font-family='"Liberation Serif", serif' font-weight="bold" fill="#000" >0 kPa</text>
<line x1="212.8" y1="257.58" x2="234.7" y2="257.58" stroke="#ee2020" stroke-width="1.3" />
<text x="269.2" y="261.18" font-size="9.3" text-anchor="end" font-family='"Liberation Serif", serif' font-weight="bold" fill="#000" >10 kPa</text>
<line x1="212.8" y1="269.66" x2="234.7" y2="269.66" stroke="#2050b4" stroke-width="1.3" />
<text x="269.2" y="273.26" font-size="9.3" text-anchor="end" font-family='"Liberation Serif", serif' font-weight="bold" fill="#000" >20 kPa</text>
<line x1="212.8" y1="281.74" x2="234.7" y2="281.74" stroke="#24a458" stroke-width="1.3" />
<text x="269.2" y="285.34" font-size="9.3" text-anchor="end" font-family='"Liberation Serif", serif' font-weight="bold" fill="#000" >30 kPa</text>
<line x1="212.8" y1="293.82" x2="234.7" y2="293.82" stroke="#9a6ccc" stroke-width="1.3" />
<text x="269.2" y="297.42" font-size="9.3" text-anchor="end" font-family='"Liberation Serif", serif' font-weight="bold" fill="#000" >40 kPa</text>
<line x1="212.8" y1="305.9" x2="234.7" y2="305.9" stroke="#d6a21e" stroke-width="1.3" />
<text x="269.2" y="309.5" font-size="9.3" text-anchor="end" font-family='"Liberation Serif", serif' font-weight="bold" fill="#000" >50 kPa</text>
<line x1="271.5" y1="245.5" x2="293.4" y2="245.5" stroke="#22b8c8" stroke-width="1.3" />
<text x="327.7" y="249.1" font-size="9.3" text-anchor="end" font-family='"Liberation Serif", serif' font-weight="bold" fill="#000" >60 kPa</text>
<line x1="271.5" y1="257.58" x2="293.4" y2="257.58" stroke="#6e2c2c" stroke-width="1.3" />
<text x="327.7" y="261.18" font-size="9.3" text-anchor="end" font-family='"Liberation Serif", serif' font-weight="bold" fill="#000" >70 kPa</text>
<line x1="271.5" y1="269.66" x2="293.4" y2="269.66" stroke="#8e8e26" stroke-width="1.3" />
<text x="327.7" y="273.26" font-size="9.3" text-anchor="end" font-family='"Liberation Serif", serif' font-weight="bold" fill="#000" >80 kPa</text>
<line x1="271.5" y1="281.74" x2="293.4" y2="281.74" stroke="#ff5a14" stroke-width="1.3" />
<text x="327.7" y="285.34" font-size="9.3" text-anchor="end" font-family='"Liberation Serif", serif' font-weight="bold" fill="#000" >90 kPa</text>
<line x1="271.5" y1="293.82" x2="293.4" y2="293.82" stroke="#4a8ed8" stroke-width="1.3" />
<text x="327.7" y="297.42" font-size="9.3" text-anchor="end" font-family='"Liberation Serif", serif' font-weight="bold" fill="#000" >100 kPa</text>
<text x="93" y="348.7" font-size="15.5" text-anchor="start" font-family='"Liberation Serif", serif' font-weight="bold" fill="#000" >P</text>
<path d="M105.9,349.6 V339" stroke="#000" stroke-width="1.5"/><polygon points="105.9,336.3 108.4,340.6 103.4,340.6" fill="#000"/>
<line x1="113.3" y1="343.4" x2="162.5" y2="343.4" stroke="#ee1111" stroke-width="2.7" />
<polygon points="167.5,343.4 161,340.1 161,346.7" fill="#ee1111"/>
<text x="0.1" y="451.3" font-size="19.6" font-family='"Liberation Serif", serif' font-weight="bold">(</text>
<text x="8.3" y="452.4" font-size="19.5" font-family='"Liberation Serif", serif' font-weight="bold">c</text>
<text x="17.35" y="451.3" font-size="19.6" font-family='"Liberation Serif", serif' font-weight="bold">)</text>
<clipPath id="cc"><rect x="57.3" y="472.9" width="211.2" height="186.0"/></clipPath>
<g clip-path="url(#cc)">
<polyline points="57.3,546.46 58.3,548.03 59.3,549.6 60.3,551.16 61.3,552.72 62.3,554.28 63.3,555.83 64.3,557.38 65.3,558.93 66.3,560.47 67.3,562 68.3,563.53 69.3,565.06 70.3,566.58 71.3,568.09 72.3,569.6 73.3,571.11 74.3,572.61 75.3,574.1 76.3,575.58 77.3,577.06 78.3,578.53 79.3,579.99 80.3,581.45 81.3,582.9 82.3,584.34 83.3,585.77 84.3,587.19 85.3,588.61 86.3,590.01 87.3,591.41 88.3,592.8 89.3,594.17 90.3,595.54 91.3,596.89 92.3,598.24 93.3,599.57 94.3,600.89 95.3,602.2 96.3,603.49 97.3,604.78 98.3,606.05 99.3,607.3 100.3,608.54 101.3,609.77 102.3,610.98 103.3,612.18 104.3,613.36 105.3,614.53 106.3,615.68 107.3,616.81 108.3,617.93 109.3,619.03 110.3,620.11 111.3,621.17 112.3,622.21 113.3,623.23 114.3,624.23 115.3,625.22 116.3,626.18 117.3,627.12 118.3,628.03 119.3,628.93 120.3,629.8 121.3,630.65 122.3,631.48 123.3,632.28 124.3,633.05 125.3,633.8 126.3,634.53 127.3,635.23 128.3,635.9 129.3,636.55 130.3,637.17 131.3,637.76 132.3,638.32 133.3,638.86 134.3,639.36 135.3,639.84 136.3,640.28 137.3,640.7 138.3,641.08 139.3,641.44 140.3,641.76 141.3,642.05 142.3,642.31 143.3,642.54 144.3,642.73 145.3,642.9 146.3,643.03 147.3,643.12 148.3,643.19 149.3,643.22 150.3,643.22 151.3,643.18 152.3,643.1 153.3,642.98 154.3,642.83 155.3,642.63 156.3,642.4 157.3,642.13 158.3,641.82 159.3,641.47 160.3,641.09 161.3,640.67 162.3,640.21 163.3,639.72 164.3,639.19 165.3,638.63 166.3,638.04 167.3,637.41 168.3,636.75 169.3,636.05 170.3,635.33 171.3,634.57 172.3,633.78 173.3,632.96 174.3,632.11 175.3,631.24 176.3,630.33 177.3,629.39 178.3,628.43 179.3,627.44 180.3,626.42 181.3,625.38 182.3,624.31 183.3,623.22 184.3,622.1 185.3,620.95 186.3,619.78 187.3,618.59 188.3,617.38 189.3,616.14 190.3,614.88 191.3,613.59 192.3,612.29 193.3,610.96 194.3,609.62 195.3,608.25 196.3,606.86 197.3,605.46 198.3,604.03 199.3,602.58 200.3,601.12 201.3,599.64 202.3,598.14 203.3,596.62 204.3,595.09 205.3,593.54 206.3,591.97 207.3,590.38 208.3,588.78 209.3,587.17 210.3,585.54 211.3,583.89 212.3,582.23 213.3,580.56 214.3,578.87 215.3,577.17 216.3,575.46 217.3,573.73 218.3,571.99 219.3,570.24 220.3,568.47 221.3,566.7 222.3,564.91 223.3,563.11 224.3,561.3 225.3,559.48 226.3,557.65 227.3,555.81 228.3,553.96 229.3,552.1 230.3,550.23 231.3,548.35 232.3,546.46 233.3,544.56 234.3,542.66 235.3,540.74 236.3,538.82 237.3,536.89 238.3,534.95 239.3,533.01 240.3,531.05 241.3,529.09 242.3,527.13 243.3,525.16 244.3,523.18 245.3,521.19 246.3,519.2 247.3,517.2 248.3,515.2 249.3,513.19 250.3,511.18 251.3,509.16 252.3,507.13 253.3,505.11 254.3,503.07 255.3,501.03 256.3,498.99 257.3,496.94 258.3,494.89 259.3,492.84 260.3,490.78 261.3,488.72 262.3,486.65 263.3,484.58 264.3,482.51 265.3,480.43 266.3,478.36 267.3,476.27 268.3,474.19 269.3,472.1" fill="none" stroke="#222222" stroke-width="1.25" stroke-linejoin="round" />
<polyline points="57.3,543.7 58.3,545.3 59.3,546.89 60.3,548.48 61.3,550.07 62.3,551.65 63.3,553.24 64.3,554.81 65.3,556.39 66.3,557.96 67.3,559.52 68.3,561.08 69.3,562.64 70.3,564.19 71.3,565.74 72.3,567.28 73.3,568.82 74.3,570.35 75.3,571.88 76.3,573.4 77.3,574.91 78.3,576.42 79.3,577.92 80.3,579.41 81.3,580.89 82.3,582.37 83.3,583.84 84.3,585.3 85.3,586.76 86.3,588.2 87.3,589.64 88.3,591.06 89.3,592.48 90.3,593.89 91.3,595.28 92.3,596.67 93.3,598.04 94.3,599.4 95.3,600.76 96.3,602.09 97.3,603.42 98.3,604.73 99.3,606.03 100.3,607.32 101.3,608.59 102.3,609.85 103.3,611.09 104.3,612.32 105.3,613.53 106.3,614.72 107.3,615.9 108.3,617.06 109.3,618.2 110.3,619.32 111.3,620.43 112.3,621.52 113.3,622.58 114.3,623.63 115.3,624.66 116.3,625.66 117.3,626.65 118.3,627.61 119.3,628.55 120.3,629.47 121.3,630.36 122.3,631.23 123.3,632.08 124.3,632.9 125.3,633.7 126.3,634.47 127.3,635.21 128.3,635.93 129.3,636.62 130.3,637.28 131.3,637.92 132.3,638.53 133.3,639.11 134.3,639.66 135.3,640.18 136.3,640.67 137.3,641.13 138.3,641.56 139.3,641.96 140.3,642.33 141.3,642.67 142.3,642.98 143.3,643.25 144.3,643.49 145.3,643.7 146.3,643.88 147.3,644.03 148.3,644.14 149.3,644.22 150.3,644.27 151.3,644.28 152.3,644.26 153.3,644.21 154.3,644.12 155.3,643.99 156.3,643.83 157.3,643.64 158.3,643.41 159.3,643.14 160.3,642.84 161.3,642.51 162.3,642.14 163.3,641.74 164.3,641.3 165.3,640.83 166.3,640.33 167.3,639.8 168.3,639.23 169.3,638.63 170.3,638 171.3,637.34 172.3,636.65 173.3,635.92 174.3,635.17 175.3,634.39 176.3,633.57 177.3,632.73 178.3,631.86 179.3,630.96 180.3,630.03 181.3,629.08 182.3,628.1 183.3,627.09 184.3,626.05 185.3,624.99 186.3,623.9 187.3,622.79 188.3,621.65 189.3,620.49 190.3,619.3 191.3,618.09 192.3,616.85 193.3,615.59 194.3,614.31 195.3,613.01 196.3,611.68 197.3,610.34 198.3,608.97 199.3,607.58 200.3,606.17 201.3,604.74 202.3,603.29 203.3,601.82 204.3,600.33 205.3,598.82 206.3,597.3 207.3,595.75 208.3,594.19 209.3,592.61 210.3,591.01 211.3,589.4 212.3,587.77 213.3,586.13 214.3,584.47 215.3,582.79 216.3,581.1 217.3,579.39 218.3,577.67 219.3,575.94 220.3,574.19 221.3,572.43 222.3,570.65 223.3,568.87 224.3,567.06 225.3,565.25 226.3,563.43 227.3,561.59 228.3,559.74 229.3,557.89 230.3,556.02 231.3,554.14 232.3,552.24 233.3,550.34 234.3,548.43 235.3,546.51 236.3,544.58 237.3,542.65 238.3,540.7 239.3,538.74 240.3,536.78 241.3,534.81 242.3,532.83 243.3,530.84 244.3,528.84 245.3,526.84 246.3,524.83 247.3,522.81 248.3,520.79 249.3,518.76 250.3,516.73 251.3,514.68 252.3,512.64 253.3,510.58 254.3,508.53 255.3,506.46 256.3,504.39 257.3,502.32 258.3,500.24 259.3,498.16 260.3,496.07 261.3,493.97 262.3,491.88 263.3,489.78 264.3,487.67 265.3,485.56 266.3,483.45 267.3,481.34 268.3,479.22 269.3,477.1" fill="none" stroke="#ee2020" stroke-width="1.25" stroke-linejoin="round" />
<polyline points="57.3,540.23 58.3,541.85 59.3,543.46 60.3,545.07 61.3,546.68 62.3,548.28 63.3,549.88 64.3,551.48 65.3,553.08 66.3,554.67 67.3,556.26 68.3,557.85 69.3,559.43 70.3,561.01 71.3,562.58 72.3,564.15 73.3,565.71 74.3,567.27 75.3,568.83 76.3,570.38 77.3,571.92 78.3,573.46 79.3,574.99 80.3,576.51 81.3,578.03 82.3,579.54 83.3,581.05 84.3,582.54 85.3,584.03 86.3,585.51 87.3,586.98 88.3,588.45 89.3,589.9 90.3,591.34 91.3,592.78 92.3,594.2 93.3,595.62 94.3,597.02 95.3,598.41 96.3,599.79 97.3,601.16 98.3,602.52 99.3,603.86 100.3,605.19 101.3,606.51 102.3,607.81 103.3,609.1 104.3,610.38 105.3,611.63 106.3,612.88 107.3,614.1 108.3,615.31 109.3,616.51 110.3,617.68 111.3,618.84 112.3,619.98 113.3,621.1 114.3,622.2 115.3,623.28 116.3,624.34 117.3,625.38 118.3,626.39 119.3,627.39 120.3,628.36 121.3,629.32 122.3,630.24 123.3,631.15 124.3,632.03 125.3,632.88 126.3,633.71 127.3,634.52 128.3,635.3 129.3,636.05 130.3,636.77 131.3,637.47 132.3,638.14 133.3,638.78 134.3,639.4 135.3,639.98 136.3,640.53 137.3,641.06 138.3,641.56 139.3,642.02 140.3,642.46 141.3,642.86 142.3,643.23 143.3,643.57 144.3,643.88 145.3,644.16 146.3,644.41 147.3,644.62 148.3,644.8 149.3,644.95 150.3,645.07 151.3,645.15 152.3,645.2 153.3,645.22 154.3,645.21 155.3,645.16 156.3,645.08 157.3,644.96 158.3,644.82 159.3,644.64 160.3,644.42 161.3,644.18 162.3,643.9 163.3,643.59 164.3,643.25 165.3,642.87 166.3,642.46 167.3,642.02 168.3,641.55 169.3,641.05 170.3,640.51 171.3,639.95 172.3,639.35 173.3,638.72 174.3,638.06 175.3,637.38 176.3,636.66 177.3,635.91 178.3,635.13 179.3,634.32 180.3,633.49 181.3,632.62 182.3,631.73 183.3,630.81 184.3,629.86 185.3,628.88 186.3,627.87 187.3,626.84 188.3,625.79 189.3,624.7 190.3,623.59 191.3,622.46 192.3,621.3 193.3,620.11 194.3,618.9 195.3,617.67 196.3,616.41 197.3,615.13 198.3,613.82 199.3,612.5 200.3,611.15 201.3,609.78 202.3,608.38 203.3,606.97 204.3,605.54 205.3,604.08 206.3,602.61 207.3,601.11 208.3,599.6 209.3,598.06 210.3,596.51 211.3,594.94 212.3,593.35 213.3,591.74 214.3,590.12 215.3,588.48 216.3,586.82 217.3,585.15 218.3,583.46 219.3,581.76 220.3,580.04 221.3,578.3 222.3,576.55 223.3,574.79 224.3,573.01 225.3,571.22 226.3,569.41 227.3,567.59 228.3,565.76 229.3,563.92 230.3,562.07 231.3,560.2 232.3,558.32 233.3,556.43 234.3,554.53 235.3,552.62 236.3,550.69 237.3,548.76 238.3,546.82 239.3,544.87 240.3,542.91 241.3,540.94 242.3,538.96 243.3,536.97 244.3,534.97 245.3,532.97 246.3,530.96 247.3,528.94 248.3,526.91 249.3,524.87 250.3,522.83 251.3,520.78 252.3,518.73 253.3,516.66 254.3,514.6 255.3,512.52 256.3,510.44 257.3,508.35 258.3,506.26 259.3,504.17 260.3,502.06 261.3,499.96 262.3,497.85 263.3,495.73 264.3,493.61 265.3,491.48 266.3,489.35 267.3,487.22 268.3,485.08 269.3,482.94" fill="none" stroke="#2050b4" stroke-width="1.25" stroke-linejoin="round" />
<polyline points="57.3,537.39 58.3,539.01 59.3,540.64 60.3,542.26 61.3,543.88 62.3,545.5 63.3,547.11 64.3,548.73 65.3,550.34 66.3,551.94 67.3,553.55 68.3,555.15 69.3,556.75 70.3,558.34 71.3,559.94 72.3,561.52 73.3,563.11 74.3,564.68 75.3,566.26 76.3,567.83 77.3,569.39 78.3,570.95 79.3,572.5 80.3,574.05 81.3,575.59 82.3,577.13 83.3,578.66 84.3,580.18 85.3,581.69 86.3,583.2 87.3,584.7 88.3,586.19 89.3,587.68 90.3,589.15 91.3,590.62 92.3,592.07 93.3,593.52 94.3,594.96 95.3,596.38 96.3,597.8 97.3,599.2 98.3,600.6 99.3,601.98 100.3,603.35 101.3,604.7 102.3,606.05 103.3,607.38 104.3,608.69 105.3,609.99 106.3,611.28 107.3,612.55 108.3,613.81 109.3,615.05 110.3,616.27 111.3,617.48 112.3,618.67 113.3,619.84 114.3,620.99 115.3,622.13 116.3,623.24 117.3,624.34 118.3,625.41 119.3,626.46 120.3,627.5 121.3,628.51 122.3,629.5 123.3,630.46 124.3,631.4 125.3,632.32 126.3,633.22 127.3,634.09 128.3,634.93 129.3,635.75 130.3,636.54 131.3,637.31 132.3,638.05 133.3,638.76 134.3,639.45 135.3,640.1 136.3,640.73 137.3,641.33 138.3,641.9 139.3,642.44 140.3,642.95 141.3,643.43 142.3,643.87 143.3,644.29 144.3,644.68 145.3,645.03 146.3,645.35 147.3,645.64 148.3,645.9 149.3,646.13 150.3,646.32 151.3,646.48 152.3,646.61 153.3,646.71 154.3,646.77 155.3,646.8 156.3,646.79 157.3,646.76 158.3,646.69 159.3,646.58 160.3,646.45 161.3,646.28 162.3,646.07 163.3,645.84 164.3,645.57 165.3,645.27 166.3,644.93 167.3,644.57 168.3,644.17 169.3,643.73 170.3,643.27 171.3,642.77 172.3,642.25 173.3,641.69 174.3,641.1 175.3,640.48 176.3,639.82 177.3,639.14 178.3,638.43 179.3,637.68 180.3,636.91 181.3,636.11 182.3,635.28 183.3,634.41 184.3,633.52 185.3,632.61 186.3,631.66 187.3,630.69 188.3,629.68 189.3,628.65 190.3,627.6 191.3,626.52 192.3,625.41 193.3,624.27 194.3,623.11 195.3,621.93 196.3,620.72 197.3,619.48 198.3,618.23 199.3,616.95 200.3,615.64 201.3,614.31 202.3,612.96 203.3,611.59 204.3,610.19 205.3,608.78 206.3,607.34 207.3,605.88 208.3,604.41 209.3,602.91 210.3,601.39 211.3,599.85 212.3,598.3 213.3,596.72 214.3,595.13 215.3,593.52 216.3,591.89 217.3,590.24 218.3,588.58 219.3,586.9 220.3,585.21 221.3,583.5 222.3,581.77 223.3,580.03 224.3,578.28 225.3,576.51 226.3,574.72 227.3,572.92 228.3,571.11 229.3,569.29 230.3,567.45 231.3,565.6 232.3,563.74 233.3,561.86 234.3,559.98 235.3,558.08 236.3,556.17 237.3,554.25 238.3,552.32 239.3,550.38 240.3,548.43 241.3,546.47 242.3,544.5 243.3,542.52 244.3,540.53 245.3,538.54 246.3,536.53 247.3,534.52 248.3,532.5 249.3,530.47 250.3,528.43 251.3,526.39 252.3,524.34 253.3,522.28 254.3,520.21 255.3,518.14 256.3,516.07 257.3,513.98 258.3,511.89 259.3,509.8 260.3,507.7 261.3,505.59 262.3,503.48 263.3,501.36 264.3,499.24 265.3,497.12 266.3,494.98 267.3,492.85 268.3,490.71 269.3,488.57" fill="none" stroke="#24a458" stroke-width="1.25" stroke-linejoin="round" />
<polyline points="57.3,533.59 58.3,535.23 59.3,536.86 60.3,538.49 61.3,540.12 62.3,541.75 63.3,543.38 64.3,545 65.3,546.63 66.3,548.25 67.3,549.86 68.3,551.48 69.3,553.09 70.3,554.7 71.3,556.31 72.3,557.91 73.3,559.51 74.3,561.1 75.3,562.7 76.3,564.28 77.3,565.86 78.3,567.44 79.3,569.02 80.3,570.58 81.3,572.15 82.3,573.7 83.3,575.25 84.3,576.8 85.3,578.34 86.3,579.87 87.3,581.39 88.3,582.91 89.3,584.42 90.3,585.92 91.3,587.42 92.3,588.91 93.3,590.38 94.3,591.85 95.3,593.31 96.3,594.76 97.3,596.2 98.3,597.62 99.3,599.04 100.3,600.45 101.3,601.84 102.3,603.22 103.3,604.59 104.3,605.95 105.3,607.29 106.3,608.62 107.3,609.94 108.3,611.24 109.3,612.53 110.3,613.8 111.3,615.06 112.3,616.29 113.3,617.52 114.3,618.72 115.3,619.91 116.3,621.08 117.3,622.23 118.3,623.36 119.3,624.47 120.3,625.56 121.3,626.64 122.3,627.69 123.3,628.71 124.3,629.72 125.3,630.7 126.3,631.67 127.3,632.6 128.3,633.52 129.3,634.4 130.3,635.27 131.3,636.11 132.3,636.92 133.3,637.7 134.3,638.46 135.3,639.2 136.3,639.9 137.3,640.58 138.3,641.22 139.3,641.84 140.3,642.43 141.3,642.99 142.3,643.52 143.3,644.02 144.3,644.49 145.3,644.93 146.3,645.33 147.3,645.71 148.3,646.05 149.3,646.36 150.3,646.64 151.3,646.89 152.3,647.1 153.3,647.28 154.3,647.43 155.3,647.54 156.3,647.62 157.3,647.67 158.3,647.69 159.3,647.67 160.3,647.62 161.3,647.53 162.3,647.41 163.3,647.26 164.3,647.08 165.3,646.86 166.3,646.6 167.3,646.32 168.3,646 169.3,645.65 170.3,645.27 171.3,644.85 172.3,644.4 173.3,643.92 174.3,643.41 175.3,642.87 176.3,642.29 177.3,641.68 178.3,641.05 179.3,640.38 180.3,639.68 181.3,638.94 182.3,638.18 183.3,637.39 184.3,636.57 185.3,635.72 186.3,634.84 187.3,633.94 188.3,633 189.3,632.04 190.3,631.04 191.3,630.03 192.3,628.98 193.3,627.91 194.3,626.81 195.3,625.68 196.3,624.53 197.3,623.35 198.3,622.15 199.3,620.92 200.3,619.67 201.3,618.4 202.3,617.1 203.3,615.77 204.3,614.43 205.3,613.06 206.3,611.67 207.3,610.26 208.3,608.83 209.3,607.37 210.3,605.9 211.3,604.41 212.3,602.89 213.3,601.36 214.3,599.8 215.3,598.23 216.3,596.64 217.3,595.03 218.3,593.41 219.3,591.76 220.3,590.1 221.3,588.42 222.3,586.73 223.3,585.02 224.3,583.3 225.3,581.55 226.3,579.8 227.3,578.03 228.3,576.24 229.3,574.45 230.3,572.63 231.3,570.81 232.3,568.97 233.3,567.12 234.3,565.25 235.3,563.38 236.3,561.49 237.3,559.59 238.3,557.68 239.3,555.76 240.3,553.82 241.3,551.88 242.3,549.93 243.3,547.97 244.3,545.99 245.3,544.01 246.3,542.02 247.3,540.02 248.3,538.01 249.3,535.99 250.3,533.97 251.3,531.94 252.3,529.9 253.3,527.85 254.3,525.79 255.3,523.73 256.3,521.66 257.3,519.58 258.3,517.5 259.3,515.41 260.3,513.32 261.3,511.22 262.3,509.11 263.3,507 264.3,504.89 265.3,502.76 266.3,500.64 267.3,498.51 268.3,496.37 269.3,494.23" fill="none" stroke="#9a6ccc" stroke-width="1.25" stroke-linejoin="round" />
<polyline points="57.3,529.89 58.3,531.53 59.3,533.17 60.3,534.81 61.3,536.45 62.3,538.09 63.3,539.73 64.3,541.36 65.3,543 66.3,544.63 67.3,546.26 68.3,547.88 69.3,549.51 70.3,551.13 71.3,552.75 72.3,554.37 73.3,555.98 74.3,557.59 75.3,559.2 76.3,560.8 77.3,562.4 78.3,563.99 79.3,565.58 80.3,567.17 81.3,568.75 82.3,570.32 83.3,571.9 84.3,573.46 85.3,575.02 86.3,576.57 87.3,578.12 88.3,579.66 89.3,581.2 90.3,582.72 91.3,584.24 92.3,585.75 93.3,587.26 94.3,588.75 95.3,590.24 96.3,591.72 97.3,593.19 98.3,594.65 99.3,596.1 100.3,597.53 101.3,598.96 102.3,600.38 103.3,601.78 104.3,603.18 105.3,604.56 106.3,605.93 107.3,607.28 108.3,608.63 109.3,609.95 110.3,611.27 111.3,612.57 112.3,613.85 113.3,615.12 114.3,616.37 115.3,617.61 116.3,618.82 117.3,620.03 118.3,621.21 119.3,622.37 120.3,623.52 121.3,624.64 122.3,625.75 123.3,626.83 124.3,627.9 125.3,628.94 126.3,629.96 127.3,630.96 128.3,631.94 129.3,632.89 130.3,633.82 131.3,634.72 132.3,635.6 133.3,636.45 134.3,637.28 135.3,638.08 136.3,638.86 137.3,639.6 138.3,640.32 139.3,641.02 140.3,641.68 141.3,642.31 142.3,642.92 143.3,643.49 144.3,644.04 145.3,644.55 146.3,645.04 147.3,645.49 148.3,645.91 149.3,646.3 150.3,646.66 151.3,646.99 152.3,647.28 153.3,647.54 154.3,647.77 155.3,647.96 156.3,648.13 157.3,648.26 158.3,648.35 159.3,648.41 160.3,648.44 161.3,648.44 162.3,648.4 163.3,648.33 164.3,648.22 165.3,648.08 166.3,647.91 167.3,647.7 168.3,647.46 169.3,647.19 170.3,646.89 171.3,646.55 172.3,646.17 173.3,645.77 174.3,645.33 175.3,644.86 176.3,644.36 177.3,643.82 178.3,643.26 179.3,642.66 180.3,642.03 181.3,641.37 182.3,640.68 183.3,639.96 184.3,639.2 185.3,638.42 186.3,637.61 187.3,636.76 188.3,635.89 189.3,634.99 190.3,634.06 191.3,633.1 192.3,632.12 193.3,631.1 194.3,630.06 195.3,628.99 196.3,627.9 197.3,626.78 198.3,625.63 199.3,624.46 200.3,623.26 201.3,622.03 202.3,620.79 203.3,619.51 204.3,618.22 205.3,616.9 206.3,615.56 207.3,614.19 208.3,612.8 209.3,611.39 210.3,609.96 211.3,608.51 212.3,607.04 213.3,605.54 214.3,604.03 215.3,602.49 216.3,600.94 217.3,599.37 218.3,597.78 219.3,596.17 220.3,594.54 221.3,592.9 222.3,591.23 223.3,589.55 224.3,587.86 225.3,586.15 226.3,584.42 227.3,582.68 228.3,580.92 229.3,579.15 230.3,577.36 231.3,575.56 232.3,573.74 233.3,571.91 234.3,570.07 235.3,568.22 236.3,566.35 237.3,564.47 238.3,562.58 239.3,560.68 240.3,558.76 241.3,556.83 242.3,554.9 243.3,552.95 244.3,550.99 245.3,549.03 246.3,547.05 247.3,545.06 248.3,543.07 249.3,541.06 250.3,539.05 251.3,537.03 252.3,535 253.3,532.96 254.3,530.91 255.3,528.86 256.3,526.8 257.3,524.73 258.3,522.66 259.3,520.57 260.3,518.49 261.3,516.39 262.3,514.29 263.3,512.19 264.3,510.08 265.3,507.96 266.3,505.84 267.3,503.71 268.3,501.58 269.3,499.44" fill="none" stroke="#d6a21e" stroke-width="1.25" stroke-linejoin="round" />
<polyline points="57.3,524.28 58.3,525.93 59.3,527.58 60.3,529.22 61.3,530.87 62.3,532.52 63.3,534.16 64.3,535.8 65.3,537.45 66.3,539.09 67.3,540.73 68.3,542.36 69.3,544 70.3,545.63 71.3,547.26 72.3,548.89 73.3,550.51 74.3,552.14 75.3,553.76 76.3,555.37 77.3,556.99 78.3,558.6 79.3,560.2 80.3,561.8 81.3,563.4 82.3,565 83.3,566.58 84.3,568.17 85.3,569.75 86.3,571.32 87.3,572.89 88.3,574.45 89.3,576.01 90.3,577.56 91.3,579.11 92.3,580.64 93.3,582.17 94.3,583.7 95.3,585.21 96.3,586.72 97.3,588.22 98.3,589.71 99.3,591.19 100.3,592.67 101.3,594.13 102.3,595.58 103.3,597.03 104.3,598.46 105.3,599.88 106.3,601.29 107.3,602.69 108.3,604.07 109.3,605.45 110.3,606.81 111.3,608.16 112.3,609.49 113.3,610.81 114.3,612.11 115.3,613.4 116.3,614.68 117.3,615.93 118.3,617.17 119.3,618.4 120.3,619.61 121.3,620.8 122.3,621.97 123.3,623.12 124.3,624.25 125.3,625.36 126.3,626.45 127.3,627.53 128.3,628.58 129.3,629.6 130.3,630.61 131.3,631.59 132.3,632.55 133.3,633.49 134.3,634.4 135.3,635.29 136.3,636.15 137.3,636.98 138.3,637.79 139.3,638.58 140.3,639.33 141.3,640.06 142.3,640.76 143.3,641.43 144.3,642.07 145.3,642.69 146.3,643.27 147.3,643.82 148.3,644.35 149.3,644.84 150.3,645.3 151.3,645.73 152.3,646.13 153.3,646.49 154.3,646.83 155.3,647.13 156.3,647.39 157.3,647.63 158.3,647.83 159.3,648 160.3,648.13 161.3,648.24 162.3,648.3 163.3,648.34 164.3,648.34 165.3,648.3 166.3,648.23 167.3,648.13 168.3,647.99 169.3,647.82 170.3,647.61 171.3,647.37 172.3,647.1 173.3,646.79 174.3,646.44 175.3,646.07 176.3,645.65 177.3,645.21 178.3,644.73 179.3,644.22 180.3,643.68 181.3,643.1 182.3,642.5 183.3,641.86 184.3,641.19 185.3,640.48 186.3,639.75 187.3,638.99 188.3,638.19 189.3,637.37 190.3,636.51 191.3,635.63 192.3,634.71 193.3,633.77 194.3,632.8 195.3,631.8 196.3,630.77 197.3,629.72 198.3,628.64 199.3,627.53 200.3,626.4 201.3,625.24 202.3,624.05 203.3,622.84 204.3,621.6 205.3,620.34 206.3,619.06 207.3,617.75 208.3,616.42 209.3,615.07 210.3,613.69 211.3,612.29 212.3,610.87 213.3,609.42 214.3,607.96 215.3,606.48 216.3,604.97 217.3,603.45 218.3,601.9 219.3,600.34 220.3,598.76 221.3,597.16 222.3,595.54 223.3,593.9 224.3,592.25 225.3,590.58 226.3,588.89 227.3,587.18 228.3,585.46 229.3,583.73 230.3,581.98 231.3,580.21 232.3,578.43 233.3,576.63 234.3,574.83 235.3,573 236.3,571.17 237.3,569.32 238.3,567.46 239.3,565.58 240.3,563.7 241.3,561.8 242.3,559.89 243.3,557.97 244.3,556.04 245.3,554.1 246.3,552.14 247.3,550.18 248.3,548.21 249.3,546.23 250.3,544.23 251.3,542.23 252.3,540.22 253.3,538.21 254.3,536.18 255.3,534.15 256.3,532.1 257.3,530.05 258.3,528 259.3,525.93 260.3,523.86 261.3,521.78 262.3,519.7 263.3,517.61 264.3,515.51 265.3,513.41 266.3,511.3 267.3,509.19 268.3,507.07 269.3,504.94" fill="none" stroke="#22b8c8" stroke-width="1.25" stroke-linejoin="round" />
<polyline points="57.3,518.82 58.3,520.48 59.3,522.14 60.3,523.8 61.3,525.45 62.3,527.11 63.3,528.76 64.3,530.41 65.3,532.06 66.3,533.71 67.3,535.36 68.3,537 69.3,538.65 70.3,540.29 71.3,541.93 72.3,543.57 73.3,545.2 74.3,546.83 75.3,548.46 76.3,550.09 77.3,551.72 78.3,553.34 79.3,554.96 80.3,556.57 81.3,558.18 82.3,559.79 83.3,561.39 84.3,562.99 85.3,564.58 86.3,566.17 87.3,567.76 88.3,569.34 89.3,570.91 90.3,572.48 91.3,574.04 92.3,575.6 93.3,577.15 94.3,578.7 95.3,580.24 96.3,581.77 97.3,583.29 98.3,584.81 99.3,586.32 100.3,587.82 101.3,589.31 102.3,590.79 103.3,592.27 104.3,593.73 105.3,595.19 106.3,596.63 107.3,598.07 108.3,599.49 109.3,600.9 110.3,602.31 111.3,603.7 112.3,605.07 113.3,606.44 114.3,607.79 115.3,609.13 116.3,610.45 117.3,611.77 118.3,613.06 119.3,614.34 120.3,615.61 121.3,616.86 122.3,618.09 123.3,619.31 124.3,620.51 125.3,621.69 126.3,622.85 127.3,623.99 128.3,625.12 129.3,626.22 130.3,627.31 131.3,628.37 132.3,629.41 133.3,630.43 134.3,631.43 135.3,632.41 136.3,633.36 137.3,634.29 138.3,635.19 139.3,636.07 140.3,636.93 141.3,637.75 142.3,638.56 143.3,639.33 144.3,640.08 145.3,640.8 146.3,641.49 147.3,642.16 148.3,642.79 149.3,643.39 150.3,643.97 151.3,644.51 152.3,645.03 153.3,645.51 154.3,645.96 155.3,646.38 156.3,646.76 157.3,647.12 158.3,647.44 159.3,647.73 160.3,647.98 161.3,648.2 162.3,648.39 163.3,648.54 164.3,648.66 165.3,648.74 166.3,648.79 167.3,648.81 168.3,648.79 169.3,648.73 170.3,648.63 171.3,648.49 172.3,648.32 173.3,648.11 174.3,647.85 175.3,647.57 176.3,647.24 177.3,646.88 178.3,646.48 179.3,646.04 180.3,645.57 181.3,645.06 182.3,644.52 183.3,643.94 184.3,643.33 185.3,642.69 186.3,642.01 187.3,641.3 188.3,640.55 189.3,639.78 190.3,638.97 191.3,638.13 192.3,637.26 193.3,636.36 194.3,635.43 195.3,634.47 196.3,633.48 197.3,632.47 198.3,631.42 199.3,630.35 200.3,629.25 201.3,628.13 202.3,626.97 203.3,625.79 204.3,624.59 205.3,623.36 206.3,622.11 207.3,620.83 208.3,619.53 209.3,618.2 210.3,616.86 211.3,615.48 212.3,614.09 213.3,612.68 214.3,611.24 215.3,609.79 216.3,608.31 217.3,606.81 218.3,605.29 219.3,603.76 220.3,602.2 221.3,600.63 222.3,599.03 223.3,597.42 224.3,595.8 225.3,594.15 226.3,592.49 227.3,590.81 228.3,589.11 229.3,587.4 230.3,585.68 231.3,583.94 232.3,582.18 233.3,580.41 234.3,578.63 235.3,576.83 236.3,575.02 237.3,573.2 238.3,571.36 239.3,569.51 240.3,567.65 241.3,565.77 242.3,563.89 243.3,561.99 244.3,560.08 245.3,558.16 246.3,556.24 247.3,554.3 248.3,552.35 249.3,550.39 250.3,548.42 251.3,546.44 252.3,544.46 253.3,542.46 254.3,540.46 255.3,538.45 256.3,536.43 257.3,534.4 258.3,532.37 259.3,530.33 260.3,528.28 261.3,526.22 262.3,524.16 263.3,522.09 264.3,520.01 265.3,517.93 266.3,515.85 267.3,513.75 268.3,511.66 269.3,509.55" fill="none" stroke="#6e2c2c" stroke-width="1.25" stroke-linejoin="round" />
<polyline points="57.3,513.92 58.3,515.58 59.3,517.24 60.3,518.9 61.3,520.55 62.3,522.21 63.3,523.86 64.3,525.51 65.3,527.16 66.3,528.81 67.3,530.46 68.3,532.1 69.3,533.75 70.3,535.39 71.3,537.03 72.3,538.66 73.3,540.3 74.3,541.93 75.3,543.56 76.3,545.19 77.3,546.81 78.3,548.43 79.3,550.05 80.3,551.66 81.3,553.27 82.3,554.88 83.3,556.48 84.3,558.08 85.3,559.68 86.3,561.27 87.3,562.86 88.3,564.44 89.3,566.01 90.3,567.59 91.3,569.15 92.3,570.72 93.3,572.27 94.3,573.82 95.3,575.37 96.3,576.9 97.3,578.44 98.3,579.96 99.3,581.48 100.3,582.99 101.3,584.49 102.3,585.99 103.3,587.48 104.3,588.95 105.3,590.42 106.3,591.89 107.3,593.34 108.3,594.78 109.3,596.21 110.3,597.64 111.3,599.05 112.3,600.45 113.3,601.84 114.3,603.22 115.3,604.59 116.3,605.94 117.3,607.29 118.3,608.62 119.3,609.93 120.3,611.23 121.3,612.52 122.3,613.8 123.3,615.05 124.3,616.3 125.3,617.52 126.3,618.74 127.3,619.93 128.3,621.11 129.3,622.27 130.3,623.41 131.3,624.53 132.3,625.64 133.3,626.72 134.3,627.78 135.3,628.83 136.3,629.85 137.3,630.85 138.3,631.83 139.3,632.79 140.3,633.72 141.3,634.63 142.3,635.52 143.3,636.38 144.3,637.22 145.3,638.03 146.3,638.81 147.3,639.57 148.3,640.3 149.3,641.01 150.3,641.68 151.3,642.33 152.3,642.95 153.3,643.53 154.3,644.09 155.3,644.62 156.3,645.12 157.3,645.58 158.3,646.02 159.3,646.42 160.3,646.79 161.3,647.12 162.3,647.42 163.3,647.69 164.3,647.93 165.3,648.13 166.3,648.29 167.3,648.43 168.3,648.52 169.3,648.59 170.3,648.62 171.3,648.61 172.3,648.56 173.3,648.46 174.3,648.33 175.3,648.15 176.3,647.93 177.3,647.66 178.3,647.36 179.3,647.02 180.3,646.63 181.3,646.21 182.3,645.74 183.3,645.24 184.3,644.7 185.3,644.12 186.3,643.5 187.3,642.85 188.3,642.17 189.3,641.44 190.3,640.69 191.3,639.9 192.3,639.07 193.3,638.22 194.3,637.33 195.3,636.41 196.3,635.46 197.3,634.48 198.3,633.48 199.3,632.44 200.3,631.37 201.3,630.28 202.3,629.16 203.3,628.01 204.3,626.84 205.3,625.64 206.3,624.42 207.3,623.17 208.3,621.9 209.3,620.6 210.3,619.29 211.3,617.94 212.3,616.58 213.3,615.19 214.3,613.79 215.3,612.36 216.3,610.91 217.3,609.44 218.3,607.95 219.3,606.45 220.3,604.92 221.3,603.38 222.3,601.81 223.3,600.23 224.3,598.63 225.3,597.02 226.3,595.39 227.3,593.74 228.3,592.08 229.3,590.4 230.3,588.7 231.3,586.99 232.3,585.27 233.3,583.53 234.3,581.78 235.3,580.01 236.3,578.24 237.3,576.45 238.3,574.64 239.3,572.82 240.3,571 241.3,569.16 242.3,567.31 243.3,565.44 244.3,563.57 245.3,561.69 246.3,559.79 247.3,557.89 248.3,555.97 249.3,554.05 250.3,552.12 251.3,550.18 252.3,548.22 253.3,546.27 254.3,544.3 255.3,542.32 256.3,540.34 257.3,538.35 258.3,536.35 259.3,534.34 260.3,532.33 261.3,530.31 262.3,528.29 263.3,526.25 264.3,524.22 265.3,522.17 266.3,520.12 267.3,518.07 268.3,516 269.3,513.94" fill="none" stroke="#8e8e26" stroke-width="1.25" stroke-linejoin="round" />
<polyline points="57.3,509.6 58.3,511.26 59.3,512.92 60.3,514.58 61.3,516.23 62.3,517.88 63.3,519.52 64.3,521.16 65.3,522.79 66.3,524.43 67.3,526.05 68.3,527.68 69.3,529.3 70.3,530.91 71.3,532.53 72.3,534.13 73.3,535.74 74.3,537.33 75.3,538.93 76.3,540.52 77.3,542.1 78.3,543.68 79.3,545.26 80.3,546.83 81.3,548.39 82.3,549.96 83.3,551.51 84.3,553.06 85.3,554.61 86.3,556.15 87.3,557.68 88.3,559.21 89.3,560.74 90.3,562.25 91.3,563.77 92.3,565.27 93.3,566.77 94.3,568.27 95.3,569.76 96.3,571.24 97.3,572.72 98.3,574.19 99.3,575.65 100.3,577.1 101.3,578.55 102.3,580 103.3,581.43 104.3,582.86 105.3,584.28 106.3,585.69 107.3,587.1 108.3,588.5 109.3,589.88 110.3,591.27 111.3,592.64 112.3,594 113.3,595.36 114.3,596.71 115.3,598.04 116.3,599.37 117.3,600.69 118.3,602 119.3,603.3 120.3,604.59 121.3,605.87 122.3,607.14 123.3,608.39 124.3,609.64 125.3,610.87 126.3,612.1 127.3,613.31 128.3,614.51 129.3,615.7 130.3,616.87 131.3,618.03 132.3,619.18 133.3,620.31 134.3,621.43 135.3,622.54 136.3,623.63 137.3,624.71 138.3,625.77 139.3,626.81 140.3,627.84 141.3,628.85 142.3,629.84 143.3,630.82 144.3,631.78 145.3,632.72 146.3,633.64 147.3,634.54 148.3,635.42 149.3,636.28 150.3,637.12 151.3,637.94 152.3,638.74 153.3,639.51 154.3,640.26 155.3,640.98 156.3,641.68 157.3,642.36 158.3,643.01 159.3,643.63 160.3,644.22 161.3,644.79 162.3,645.32 163.3,645.83 164.3,646.31 165.3,646.75 166.3,647.17 167.3,647.55 168.3,647.9 169.3,648.21 170.3,648.49 171.3,648.74 172.3,648.95 173.3,649.13 174.3,649.27 175.3,649.38 176.3,649.45 177.3,649.48 178.3,649.47 179.3,649.4 180.3,649.26 181.3,649.07 182.3,648.81 183.3,648.48 184.3,648.1 185.3,647.66 186.3,647.16 187.3,646.6 188.3,645.98 189.3,645.31 190.3,644.59 191.3,643.82 192.3,643 193.3,642.14 194.3,641.23 195.3,640.27 196.3,639.27 197.3,638.24 198.3,637.16 199.3,636.05 200.3,634.9 201.3,633.72 202.3,632.51 203.3,631.26 204.3,629.99 205.3,628.69 206.3,627.36 207.3,626 208.3,624.62 209.3,623.22 210.3,621.8 211.3,620.35 212.3,618.88 213.3,617.39 214.3,615.89 215.3,614.36 216.3,612.82 217.3,611.26 218.3,609.69 219.3,608.1 220.3,606.5 221.3,604.88 222.3,603.25 223.3,601.6 224.3,599.95 225.3,598.28 226.3,596.6 227.3,594.9 228.3,593.2 229.3,591.49 230.3,589.76 231.3,588.03 232.3,586.29 233.3,584.54 234.3,582.78 235.3,581.01 236.3,579.24 237.3,577.45 238.3,575.66 239.3,573.86 240.3,572.06 241.3,570.25 242.3,568.43 243.3,566.61 244.3,564.78 245.3,562.94 246.3,561.1 247.3,559.25 248.3,557.4 249.3,555.54 250.3,553.68 251.3,551.81 252.3,549.94 253.3,548.06 254.3,546.18 255.3,544.3 256.3,542.41 257.3,540.52 258.3,538.62 259.3,536.73 260.3,534.82 261.3,532.92 262.3,531.01 263.3,529.1 264.3,527.18 265.3,525.26 266.3,523.34 267.3,521.42 268.3,519.49 269.3,517.57" fill="none" stroke="#ff5a14" stroke-width="1.25" stroke-linejoin="round" />
<polyline points="57.3,504.98 58.3,506.64 59.3,508.31 60.3,509.96 61.3,511.61 62.3,513.26 63.3,514.9 64.3,516.54 65.3,518.17 66.3,519.79 67.3,521.42 68.3,523.03 69.3,524.64 70.3,526.25 71.3,527.85 72.3,529.45 73.3,531.04 74.3,532.63 75.3,534.21 76.3,535.78 77.3,537.35 78.3,538.92 79.3,540.47 80.3,542.03 81.3,543.58 82.3,545.12 83.3,546.65 84.3,548.19 85.3,549.71 86.3,551.23 87.3,552.74 88.3,554.25 89.3,555.75 90.3,557.25 91.3,558.74 92.3,560.22 93.3,561.69 94.3,563.16 95.3,564.63 96.3,566.09 97.3,567.54 98.3,568.98 99.3,570.42 100.3,571.85 101.3,573.27 102.3,574.69 103.3,576.1 104.3,577.5 105.3,578.9 106.3,580.29 107.3,581.67 108.3,583.04 109.3,584.41 110.3,585.76 111.3,587.12 112.3,588.46 113.3,589.79 114.3,591.12 115.3,592.44 116.3,593.75 117.3,595.05 118.3,596.34 119.3,597.62 120.3,598.9 121.3,600.16 122.3,601.42 123.3,602.67 124.3,603.91 125.3,605.13 126.3,606.35 127.3,607.56 128.3,608.76 129.3,609.94 130.3,611.12 131.3,612.29 132.3,613.44 133.3,614.58 134.3,615.71 135.3,616.83 136.3,617.94 137.3,619.04 138.3,620.12 139.3,621.19 140.3,622.24 141.3,623.28 142.3,624.31 143.3,625.33 144.3,626.33 145.3,627.31 146.3,628.28 147.3,629.23 148.3,630.17 149.3,631.09 150.3,631.99 151.3,632.87 152.3,633.74 153.3,634.59 154.3,635.41 155.3,636.22 156.3,637.01 157.3,637.77 158.3,638.52 159.3,639.24 160.3,639.94 161.3,640.61 162.3,641.26 163.3,641.88 164.3,642.48 165.3,643.05 166.3,643.6 167.3,644.11 168.3,644.6 169.3,645.05 170.3,645.48 171.3,645.87 172.3,646.23 173.3,646.56 174.3,646.85 175.3,647.12 176.3,647.34 177.3,647.53 178.3,647.69 179.3,647.81 180.3,647.89 181.3,647.94 182.3,647.95 183.3,647.89 184.3,647.77 185.3,647.58 186.3,647.31 187.3,646.98 188.3,646.57 189.3,646.1 190.3,645.57 191.3,644.97 192.3,644.3 193.3,643.58 194.3,642.8 195.3,641.97 196.3,641.08 197.3,640.13 198.3,639.14 199.3,638.1 200.3,637.02 201.3,635.89 202.3,634.73 203.3,633.52 204.3,632.28 205.3,631 206.3,629.69 207.3,628.35 208.3,626.97 209.3,625.57 210.3,624.14 211.3,622.69 212.3,621.21 213.3,619.72 214.3,618.2 215.3,616.66 216.3,615.1 217.3,613.52 218.3,611.92 219.3,610.31 220.3,608.69 221.3,607.05 222.3,605.4 223.3,603.73 224.3,602.05 225.3,600.36 226.3,598.66 227.3,596.95 228.3,595.23 229.3,593.51 230.3,591.77 231.3,590.02 232.3,588.27 233.3,586.51 234.3,584.74 235.3,582.97 236.3,581.19 237.3,579.4 238.3,577.61 239.3,575.81 240.3,574.01 241.3,572.21 242.3,570.39 243.3,568.58 244.3,566.76 245.3,564.94 246.3,563.11 247.3,561.28 248.3,559.45 249.3,557.61 250.3,555.77 251.3,553.93 252.3,552.09 253.3,550.24 254.3,548.39 255.3,546.54 256.3,544.69 257.3,542.83 258.3,540.98 259.3,539.12 260.3,537.26 261.3,535.39 262.3,533.53 263.3,531.67 264.3,529.8 265.3,527.93 266.3,526.06 267.3,524.19 268.3,522.32 269.3,520.45" fill="none" stroke="#4a8ed8" stroke-width="1.25" stroke-linejoin="round" />
</g>
<rect x="57.3" y="472.9" width="271.3" height="186" stroke="#000" stroke-width="1.4" fill="none" />
<line x1="57.3" y1="472.9" x2="60.8" y2="472.9" stroke="#000" stroke-width="1.1" />
<line x1="57.3" y1="519.4" x2="60.8" y2="519.4" stroke="#000" stroke-width="1.1" />
<line x1="57.3" y1="565.9" x2="60.8" y2="565.9" stroke="#000" stroke-width="1.1" />
<line x1="57.3" y1="612.4" x2="60.8" y2="612.4" stroke="#000" stroke-width="1.1" />
<line x1="57.3" y1="658.9" x2="60.8" y2="658.9" stroke="#000" stroke-width="1.1" />
<line x1="57.3" y1="496.15" x2="59.3" y2="496.15" stroke="#000" stroke-width="1.1" />
<line x1="57.3" y1="542.65" x2="59.3" y2="542.65" stroke="#000" stroke-width="1.1" />
<line x1="57.3" y1="589.15" x2="59.3" y2="589.15" stroke="#000" stroke-width="1.1" />
<line x1="57.3" y1="635.65" x2="59.3" y2="635.65" stroke="#000" stroke-width="1.1" />
<line x1="57.3" y1="658.9" x2="57.3" y2="655.4" stroke="#000" stroke-width="1.1" />
<line x1="111.56" y1="658.9" x2="111.56" y2="655.4" stroke="#000" stroke-width="1.1" />
<line x1="165.82" y1="658.9" x2="165.82" y2="655.4" stroke="#000" stroke-width="1.1" />
<line x1="220.08" y1="658.9" x2="220.08" y2="655.4" stroke="#000" stroke-width="1.1" />
<line x1="274.34" y1="658.9" x2="274.34" y2="655.4" stroke="#000" stroke-width="1.1" />
<line x1="328.6" y1="658.9" x2="328.6" y2="655.4" stroke="#000" stroke-width="1.1" />
<line x1="84.43" y1="658.9" x2="84.43" y2="656.9" stroke="#000" stroke-width="1.1" />
<line x1="138.69" y1="658.9" x2="138.69" y2="656.9" stroke="#000" stroke-width="1.1" />
<line x1="192.95" y1="658.9" x2="192.95" y2="656.9" stroke="#000" stroke-width="1.1" />
<line x1="247.21" y1="658.9" x2="247.21" y2="656.9" stroke="#000" stroke-width="1.1" />
<line x1="301.47" y1="658.9" x2="301.47" y2="656.9" stroke="#000" stroke-width="1.1" />
<text transform="translate(53.2,475.7) scale(1.12,1)" font-size="9.6" text-anchor="end" font-family='"Liberation Serif", serif' font-weight="bold" fill="#000" >-20</text>
<text transform="translate(53.2,522.2) scale(1.12,1)" font-size="9.6" text-anchor="end" font-family='"Liberation Serif", serif' font-weight="bold" fill="#000" >-21</text>
<text transform="translate(53.2,568.7) scale(1.12,1)" font-size="9.6" text-anchor="end" font-family='"Liberation Serif", serif' font-weight="bold" fill="#000" >-22</text>
<text transform="translate(53.2,615.2) scale(1.12,1)" font-size="9.6" text-anchor="end" font-family='"Liberation Serif", serif' font-weight="bold" fill="#000" >-23</text>
<text transform="translate(53.2,661.7) scale(1.12,1)" font-size="9.6" text-anchor="end" font-family='"Liberation Serif", serif' font-weight="bold" fill="#000" >-24</text>
<text transform="translate(57.3,671.8) scale(1.12,1)" font-size="9.6" text-anchor="middle" font-family='"Liberation Serif", serif' font-weight="bold" fill="#000" >91.650M</text>
<text transform="translate(111.56,671.8) scale(1.12,1)" font-size="9.6" text-anchor="middle" font-family='"Liberation Serif", serif' font-weight="bold" fill="#000" >91.660M</text>
<text transform="translate(165.82,671.8) scale(1.12,1)" font-size="9.6" text-anchor="middle" font-family='"Liberation Serif", serif' font-weight="bold" fill="#000" >91.670M</text>
<text transform="translate(220.08,671.8) scale(1.12,1)" font-size="9.6" text-anchor="middle" font-family='"Liberation Serif", serif' font-weight="bold" fill="#000" >91.680M</text>
<text transform="translate(274.34,671.8) scale(1.12,1)" font-size="9.6" text-anchor="middle" font-family='"Liberation Serif", serif' font-weight="bold" fill="#000" >91.690M</text>
<text transform="translate(328.6,671.8) scale(1.12,1)" font-size="9.6" text-anchor="middle" font-family='"Liberation Serif", serif' font-weight="bold" fill="#000" >91.700M</text>
<text x="192.7" y="683.6" font-size="10.6" text-anchor="middle" font-family='"Liberation Serif", serif' font-weight="bold" fill="#000" >Frequency (Hz)</text>
<text transform="translate(34,565.5) rotate(-90) scale(1.08,1)" font-size="9.6" text-anchor="middle" font-family='"Liberation Serif", serif' font-weight="bold">S<tspan font-size="6.5" dy="1.8">11</tspan><tspan dy="-1.8">(dB)</tspan></text>
<rect x="268.5" y="472.9" width="59.5" height="130.8" stroke="#c8c8c8" stroke-width="1.1" fill="#fff" />
<rect x="57.3" y="472.9" width="271.3" height="186" stroke="#000" stroke-width="1.4" fill="none" />
<line x1="269.4" y1="480.6" x2="290.8" y2="480.6" stroke="#222222" stroke-width="1.3" />
<text x="292.9" y="483.3" font-size="9.3" text-anchor="start" font-family='"Liberation Serif", serif' font-weight="bold" fill="#000" >0 Kpa</text>
<line x1="269.4" y1="492.31" x2="290.8" y2="492.31" stroke="#ee2020" stroke-width="1.3" />
<text x="292.9" y="495.01" font-size="9.3" text-anchor="start" font-family='"Liberation Serif", serif' font-weight="bold" fill="#000" >10 Kpa</text>
<line x1="269.4" y1="504.02" x2="290.8" y2="504.02" stroke="#2050b4" stroke-width="1.3" />
<text x="292.9" y="506.72" font-size="9.3" text-anchor="start" font-family='"Liberation Serif", serif' font-weight="bold" fill="#000" >20 Kpa</text>
<line x1="269.4" y1="515.73" x2="290.8" y2="515.73" stroke="#24a458" stroke-width="1.3" />
<text x="292.9" y="518.43" font-size="9.3" text-anchor="start" font-family='"Liberation Serif", serif' font-weight="bold" fill="#000" >30 Kpa</text>
<line x1="269.4" y1="527.44" x2="290.8" y2="527.44" stroke="#9a6ccc" stroke-width="1.3" />
<text x="292.9" y="530.14" font-size="9.3" text-anchor="start" font-family='"Liberation Serif", serif' font-weight="bold" fill="#000" >40 Kpa</text>
<line x1="269.4" y1="539.15" x2="290.8" y2="539.15" stroke="#d6a21e" stroke-width="1.3" />
<text x="292.9" y="541.85" font-size="9.3" text-anchor="start" font-family='"Liberation Serif", serif' font-weight="bold" fill="#000" >50 Kpa</text>
<line x1="269.4" y1="550.86" x2="290.8" y2="550.86" stroke="#22b8c8" stroke-width="1.3" />
<text x="292.9" y="553.56" font-size="9.3" text-anchor="start" font-family='"Liberation Serif", serif' font-weight="bold" fill="#000" >60 Kpa</text>
<line x1="269.4" y1="562.57" x2="290.8" y2="562.57" stroke="#6e2c2c" stroke-width="1.3" />
<text x="292.9" y="565.27" font-size="9.3" text-anchor="start" font-family='"Liberation Serif", serif' font-weight="bold" fill="#000" >70 Kpa</text>
<line x1="269.4" y1="574.28" x2="290.8" y2="574.28" stroke="#8e8e26" stroke-width="1.3" />
<text x="292.9" y="576.98" font-size="9.3" text-anchor="start" font-family='"Liberation Serif", serif' font-weight="bold" fill="#000" >80 Kpa</text>
<line x1="269.4" y1="585.99" x2="290.8" y2="585.99" stroke="#ff5a14" stroke-width="1.3" />
<text x="292.9" y="588.69" font-size="9.3" text-anchor="start" font-family='"Liberation Serif", serif' font-weight="bold" fill="#000" >90 Kpa</text>
<line x1="269.4" y1="597.7" x2="290.8" y2="597.7" stroke="#4a8ed8" stroke-width="1.3" />
<text x="292.9" y="600.4" font-size="9.3" text-anchor="start" font-family='"Liberation Serif", serif' font-weight="bold" fill="#000" >100 Kpa</text>
<text x="174.5" y="594.3" font-size="15.5" text-anchor="start" font-family='"Liberation Serif", serif' font-weight="bold" fill="#000" >P</text>
<path d="M188.2,594.5 V584" stroke="#000" stroke-width="1.5"/><polygon points="188.2,581.4 190.7,585.7 185.7,585.7" fill="#000"/>
<line x1="193.7" y1="588" x2="243" y2="588" stroke="#ee1111" stroke-width="2.7" />
<polygon points="247.8,588 241.5,584.7 241.5,591.3" fill="#ee1111"/>
<text x="0.1" y="698.9" font-size="19.9" font-family='"Liberation Serif", serif' font-weight="bold">(</text>
<text x="8.2" y="699.9" font-size="19.5" font-family='"Liberation Serif", serif' font-weight="bold">d</text>
<text x="19.45" y="698.9" font-size="19.9" font-family='"Liberation Serif", serif' font-weight="bold">)</text>
<line x1="93.8" y1="828.98" x2="319.8" y2="735.28" stroke="#000" stroke-width="1.4" />
<line x1="93.8" y1="816.05" x2="319.8" y2="732.99" stroke="#ff0000" stroke-width="1.4" />
<rect x="92.2" y="829.5" width="3.2" height="3.2" stroke="none" stroke-width="0" fill="#222" />
<rect x="114.8" y="820.1" width="3.2" height="3.2" stroke="none" stroke-width="0" fill="#222" />
<rect x="137.4" y="807.3" width="3.2" height="3.2" stroke="none" stroke-width="0" fill="#222" />
<rect x="160" y="797" width="3.2" height="3.2" stroke="none" stroke-width="0" fill="#222" />
<rect x="182.6" y="789.8" width="3.2" height="3.2" stroke="none" stroke-width="0" fill="#222" />
<rect x="205.2" y="776.9" width="3.2" height="3.2" stroke="none" stroke-width="0" fill="#222" />
<rect x="227.8" y="770" width="3.2" height="3.2" stroke="none" stroke-width="0" fill="#222" />
<rect x="250.4" y="762.4" width="3.2" height="3.2" stroke="none" stroke-width="0" fill="#222" />
<rect x="273" y="755.1" width="3.2" height="3.2" stroke="none" stroke-width="0" fill="#222" />
<rect x="295.6" y="742.6" width="3.2" height="3.2" stroke="none" stroke-width="0" fill="#222" />
<rect x="318.2" y="734.1" width="3.2" height="3.2" stroke="none" stroke-width="0" fill="#222" />
<circle cx="93.8" cy="816.2" r="1.9" fill="#ff0000"/>
<circle cx="116.4" cy="808" r="1.9" fill="#ff0000"/>
<circle cx="139" cy="801.7" r="1.9" fill="#ff0000"/>
<circle cx="161.6" cy="787.8" r="1.9" fill="#ff0000"/>
<circle cx="184.2" cy="783.7" r="1.9" fill="#ff0000"/>
<circle cx="206.8" cy="773.4" r="1.9" fill="#ff0000"/>
<circle cx="229.4" cy="765.7" r="1.9" fill="#ff0000"/>
<circle cx="252" cy="752.6" r="1.9" fill="#ff0000"/>
<circle cx="274.6" cy="745.1" r="1.9" fill="#ff0000"/>
<circle cx="297.2" cy="743.2" r="1.9" fill="#ff0000"/>
<circle cx="319.8" cy="735.7" r="1.9" fill="#ff0000"/>
<rect x="71.2" y="705.9" width="271.3" height="186.1" stroke="#000" stroke-width="1.4" fill="none" />
<line x1="71.2" y1="892" x2="74.7" y2="892" stroke="#000" stroke-width="1.1" />
<line x1="71.2" y1="859.68" x2="74.7" y2="859.68" stroke="#000" stroke-width="1.1" />
<line x1="71.2" y1="827.36" x2="74.7" y2="827.36" stroke="#000" stroke-width="1.1" />
<line x1="71.2" y1="795.04" x2="74.7" y2="795.04" stroke="#000" stroke-width="1.1" />
<line x1="71.2" y1="762.72" x2="74.7" y2="762.72" stroke="#000" stroke-width="1.1" />
<line x1="71.2" y1="730.4" x2="74.7" y2="730.4" stroke="#000" stroke-width="1.1" />
<line x1="71.2" y1="875.84" x2="73.2" y2="875.84" stroke="#000" stroke-width="1.1" />
<line x1="71.2" y1="843.52" x2="73.2" y2="843.52" stroke="#000" stroke-width="1.1" />
<line x1="71.2" y1="811.2" x2="73.2" y2="811.2" stroke="#000" stroke-width="1.1" />
<line x1="71.2" y1="778.88" x2="73.2" y2="778.88" stroke="#000" stroke-width="1.1" />
<line x1="71.2" y1="746.56" x2="73.2" y2="746.56" stroke="#000" stroke-width="1.1" />
<line x1="71.2" y1="714.24" x2="73.2" y2="714.24" stroke="#000" stroke-width="1.1" />
<line x1="93.8" y1="892" x2="93.8" y2="888.5" stroke="#000" stroke-width="1.1" />
<line x1="139" y1="892" x2="139" y2="888.5" stroke="#000" stroke-width="1.1" />
<line x1="184.2" y1="892" x2="184.2" y2="888.5" stroke="#000" stroke-width="1.1" />
<line x1="229.4" y1="892" x2="229.4" y2="888.5" stroke="#000" stroke-width="1.1" />
<line x1="274.6" y1="892" x2="274.6" y2="888.5" stroke="#000" stroke-width="1.1" />
<line x1="319.8" y1="892" x2="319.8" y2="888.5" stroke="#000" stroke-width="1.1" />
<line x1="116.4" y1="892" x2="116.4" y2="890" stroke="#000" stroke-width="1.1" />
<line x1="161.6" y1="892" x2="161.6" y2="890" stroke="#000" stroke-width="1.1" />
<line x1="206.8" y1="892" x2="206.8" y2="890" stroke="#000" stroke-width="1.1" />
<line x1="252" y1="892" x2="252" y2="890" stroke="#000" stroke-width="1.1" />
<line x1="297.2" y1="892" x2="297.2" y2="890" stroke="#000" stroke-width="1.1" />
<text transform="translate(67.2,895.4) scale(1.1,1)" font-size="9.6" text-anchor="end" font-family='"Liberation Serif", serif' font-weight="bold" fill="#000" >91.662M</text>
<text transform="translate(67.2,863.08) scale(1.1,1)" font-size="9.6" text-anchor="end" font-family='"Liberation Serif", serif' font-weight="bold" fill="#000" >91.664M</text>
<text transform="translate(67.2,830.76) scale(1.1,1)" font-size="9.6" text-anchor="end" font-family='"Liberation Serif", serif' font-weight="bold" fill="#000" >91.666M</text>
<text transform="translate(67.2,798.44) scale(1.1,1)" font-size="9.6" text-anchor="end" font-family='"Liberation Serif", serif' font-weight="bold" fill="#000" >91.668M</text>
<text transform="translate(67.2,766.12) scale(1.1,1)" font-size="9.6" text-anchor="end" font-family='"Liberation Serif", serif' font-weight="bold" fill="#000" >91.670M</text>
<text transform="translate(67.2,733.8) scale(1.1,1)" font-size="9.6" text-anchor="end" font-family='"Liberation Serif", serif' font-weight="bold" fill="#000" >91.672M</text>
<text transform="translate(93.8,904.5) scale(1.12,1)" font-size="9.6" text-anchor="middle" font-family='"Liberation Serif", serif' font-weight="bold" fill="#000" >0</text>
<text transform="translate(139,904.5) scale(1.12,1)" font-size="9.6" text-anchor="middle" font-family='"Liberation Serif", serif' font-weight="bold" fill="#000" >20</text>
<text transform="translate(184.2,904.5) scale(1.12,1)" font-size="9.6" text-anchor="middle" font-family='"Liberation Serif", serif' font-weight="bold" fill="#000" >40</text>
<text transform="translate(229.4,904.5) scale(1.12,1)" font-size="9.6" text-anchor="middle" font-family='"Liberation Serif", serif' font-weight="bold" fill="#000" >60</text>
<text transform="translate(274.6,904.5) scale(1.12,1)" font-size="9.6" text-anchor="middle" font-family='"Liberation Serif", serif' font-weight="bold" fill="#000" >80</text>
<text transform="translate(319.8,904.5) scale(1.12,1)" font-size="9.6" text-anchor="middle" font-family='"Liberation Serif", serif' font-weight="bold" fill="#000" >100</text>
<text x="203.5" y="917.2" font-size="10.4" text-anchor="middle" font-family='"Liberation Serif", serif' font-weight="bold" fill="#000" >Pressure(kPa)</text>
<text transform="translate(24.6,798.9) rotate(-90) scale(1.0,1)" font-size="10.4" text-anchor="middle" font-family='"Liberation Serif", serif' font-weight="bold">Frequency(Hz)</text>
<text transform="translate(88.1,731) scale(1.09,1)" font-size="12.5" text-anchor="start" font-family='"Liberation Serif", serif' font-weight="bold" fill="#000" >y = 91666700+51.39484x&#160; R²=0.989</text>
<text transform="translate(136.5,840.8) scale(1.09,1)" font-size="12.5" text-anchor="start" font-family='"Liberation Serif", serif' font-weight="bold" fill="#000" >y = 91665900+57.98327x&#160; R²=0.997</text>
<rect x="277.5" y="848.4" width="55" height="28" stroke="#c8c8c8" stroke-width="1.1" fill="#fff" />
<rect x="288.7" y="854.4" width="3.2" height="3.2" stroke="none" stroke-width="0" fill="#222" />
<circle cx="290.3" cy="869" r="1.9" fill="#ff0000"/>
<text x="305.4" y="859.5" font-size="10.3" text-anchor="start" font-family='"Liberation Serif", serif' font-weight="bold" fill="#000" >Rise</text>
<text x="305.4" y="872.5" font-size="10.3" text-anchor="start" font-family='"Liberation Serif", serif' font-weight="bold" fill="#000" >Down</text>
</svg></body></html>
